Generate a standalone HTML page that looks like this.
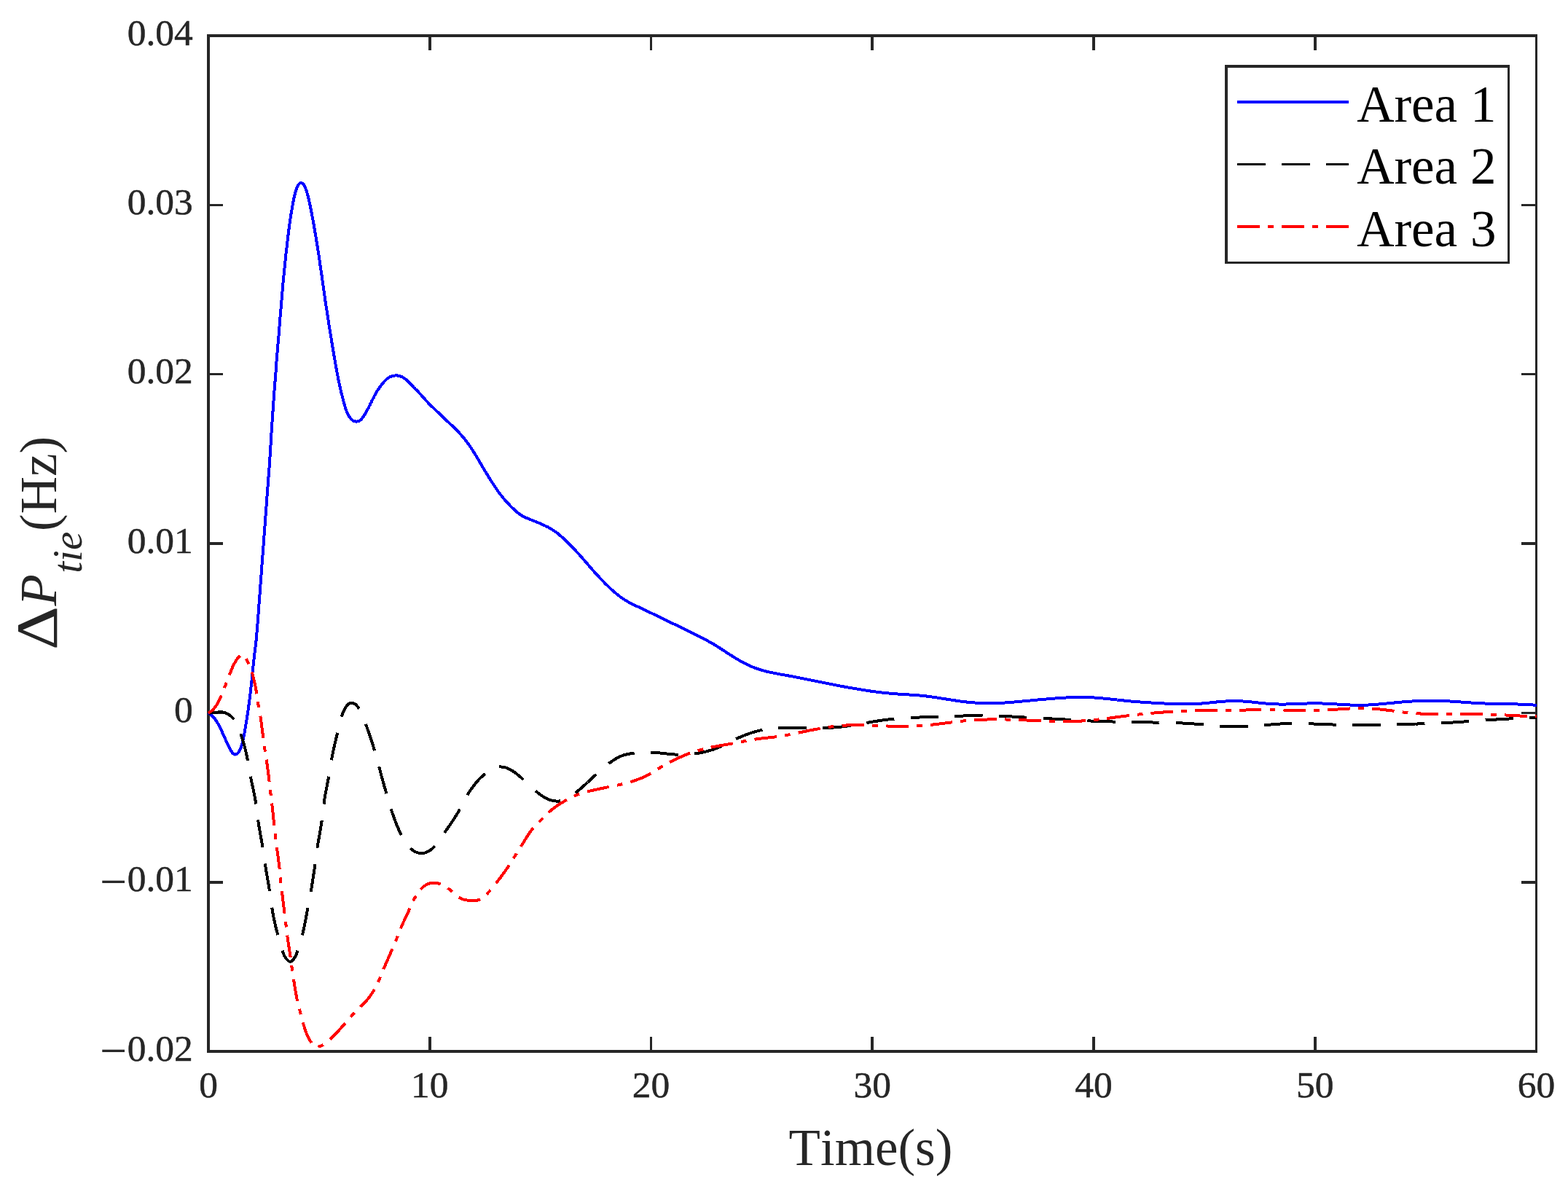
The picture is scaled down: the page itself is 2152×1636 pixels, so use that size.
<!DOCTYPE html>
<html lang="en"><head><meta charset="utf-8"><title>Tie-line power deviation</title>
<style>
html,body{margin:0;padding:0;background:#fff;}
body{width:2152px;height:1636px;overflow:hidden;}
svg{display:block;}
text{font-family:"Liberation Serif","DejaVu Serif",serif;fill:#262626;font-kerning:none;font-variant-ligatures:none;}
.tk{font-size:51.5px;stroke:#262626;stroke-width:0.5px;}
.mn{font-size:66px;stroke:none;}
.lb{font-size:71px;}
.lg{font-size:71px;fill:#000;}
.it{font-style:italic;}
.cv{fill:none;stroke-width:4;stroke-linejoin:round;shape-rendering:crispEdges;}
.ax{fill:#262626;shape-rendering:crispEdges;}
</style></head><body>
<svg xmlns="http://www.w3.org/2000/svg" width="2152" height="1636" viewBox="0 0 2152 1636">
<rect width="2152" height="1636" fill="#fff"/>
<path class="ax" d="M284 47H288V1445H284ZM2107 47H2110V1445H2107ZM284 47H2110V51H284ZM284 1441H2110V1445H284ZM588 1423H592V1441H588ZM588 51H592V69H588ZM892 1423H895V1441H892ZM892 51H895V69H892ZM1195 1423H1199V1441H1195ZM1195 51H1199V69H1195ZM1499 1423H1503V1441H1499ZM1499 51H1503V69H1499ZM1803 1423H1807V1441H1803ZM1803 51H1807V69H1803ZM288 1209H306V1213H288ZM2088 1209H2107V1213H2088ZM288 977H306V980H288ZM2088 977H2107V980H2088ZM288 744H306V748H288ZM2088 744H2107V748H2088ZM288 512H306V515H288ZM2088 512H2107V515H2088ZM288 280H306V283H288ZM2088 280H2107V283H2088Z"/>
<text class="tk" x="286.0" y="1505.7" text-anchor="middle">0</text>
<text class="tk" x="589.8" y="1505.7" text-anchor="middle">10</text>
<text class="tk" x="893.5" y="1505.7" text-anchor="middle">20</text>
<text class="tk" x="1197.2" y="1505.7" text-anchor="middle">30</text>
<text class="tk" x="1501.0" y="1505.7" text-anchor="middle">40</text>
<text class="tk" x="1804.8" y="1505.7" text-anchor="middle">50</text>
<text class="tk" x="2108.5" y="1505.7" text-anchor="middle">60</text>
<text class="tk" x="264.8" y="1455.5" text-anchor="end"><tspan class="mn" x="137.0" y="1464.4" text-anchor="start">−</tspan><tspan x="264.8" y="1455.5" text-anchor="end">0.02</tspan></text>
<text class="tk" x="264.8" y="1223.2" text-anchor="end"><tspan class="mn" x="137.0" y="1232.1" text-anchor="start">−</tspan><tspan x="264.8" y="1223.2" text-anchor="end">0.01</tspan></text>
<text class="tk" x="264.8" y="990.8" text-anchor="end">0</text>
<text class="tk" x="264.8" y="758.5" text-anchor="end">0.01</text>
<text class="tk" x="264.8" y="526.2" text-anchor="end">0.02</text>
<text class="tk" x="264.8" y="293.8" text-anchor="end">0.03</text>
<text class="tk" x="264.8" y="61.5" text-anchor="end">0.04</text>
<text class="lb" x="1195.0" y="1599.3" text-anchor="middle">Time(s)</text>
<g transform="translate(77.0 0.0) rotate(-90)">
<text class="lb"><tspan x="-892.0" y="0.5" style="font-size:80.6px" textLength="60.0" lengthAdjust="spacingAndGlyphs">Δ</tspan><tspan class="it" x="-831.6" y="0" style="font-size:71px">P</tspan><tspan class="it" x="-786.8" y="35.0" style="font-size:57px">tie</tspan><tspan x="-729.0" y="0">(Hz)</tspan></text>
</g>
<g>
<path class="cv" stroke="#0000ff" d="M286 978.7l1.3 .9l1.2 .8l1.2 .9l1.2 .9l1.1 1l1 1.1l1 1.2l.9 1.1l.9 1.3l.9 1.2l.8 1.3l.7 1.2l.8 1.3l.7 1.3l.7 1.4l.7 1.3l.7 1.3l.7 1.4l.6 1.3l.6 1.4l.7 1.4l.6 1.3l.6 1.4l.7 1.3l.6 1.4l.6 1.4l.6 1.4l.6 1.3l.6 1.4l.7 1.4l.6 1.3l.6 1.4l.7 1.3l.6 1.4l.6 1.3l.7 1.4l.7 1.3l.7 1.4l.7 1.3l.7 1.3l.7 1.3l.8 1.3l.9 1.2l1 1.1l1.2 .9l1.4 .4l1.5-.3l1.3-.7l1.1-1l.9-1.2l.8-1.3l.7-1.3l.7-1.3l.6-1.4l.5-1.4l.5-1.4l.4-1.5l.5-1.4l.4-1.5l.3-1.4l.4-1.5l.3-1.4l.3-1.5l.4-1.5l.2-1.4l.3-1.5l.3-1.5l.3-1.5l.3-1.4l.2-1.5l.3-1.5l.2-1.5l.3-1.4l.3-1.5l.2-1.5l.3-1.5l.2-1.5l.2-1.4l.3-1.5l.2-1.5l.3-1.5l.2-1.5l.2-1.4l.3-1.5l.2-1.5l.2-1.5l.2-1.5l.3-1.5l.2-1.4l.2-1.5l.2-1.5l.2-1.5l.2-1.5l.2-1.5l.2-1.5l.2-1.4l.2-1.5l.2-1.5l.2-1.5l.2-1.5l.2-1.5l.1-1.5l.2-1.5l.2-1.4l.2-1.5l.2-1.5l.2-1.5l.1-1.5l.2-1.5l.2-1.5l.1-1.5l.2-1.5l.2-1.5l.1-1.4l.2-1.5l.1-1.5l.2-1.5l.1-1.5l.2-1.5l.1-1.5l.2-1.5l.1-1.5l.2-1.5l.1-1.5l.2-1.5l.1-1.5l.2-1.5l.1-1.4l.2-1.5l.1-1.5l.2-1.5l.2-1.5l.1-1.5l.2-1.5l.1-1.5l.2-1.5l.2-1.5l.2-1.5l.1-1.4l.2-1.5l.2-1.5l.1-1.5l.2-1.5l.2-1.5l.2-1.5l.2-1.5l.1-1.5l.2-1.4l.2-1.5l.2-1.5l.2-1.5l.1-1.5l.2-1.5l.2-1.5l.1-1.5l.2-1.5l.1-1.5l.2-1.5l.1-1.5l.1-1.4l.1-1.5l.2-1.5l.1-1.5l.1-1.5l.1-1.5l.2-1.5l.1-1.5l.1-1.5l.1-1.5l.1-1.5l.2-1.5l.1-1.5l.1-1.5l.1-1.5l.1-1.5l.1-1.5l.1-1.5l.1-1.5l.2-1.5l.1-1.5l.1-1.5l.1-1.4l.1-1.5l.1-1.5l.1-1.5l.1-1.5l.1-1.5l.1-1.5l.1-1.5l.1-1.5l.2-1.5l.1-1.5l.1-1.5l.1-1.5l.1-1.5l.1-1.5l.1-1.5l.1-1.5l.1-1.5l.1-1.5l.1-1.5l.1-1.5l.1-1.5l.2-1.5l.1-1.5l.1-1.5l.1-1.5l.1-1.4l.1-1.5l.1-1.5l.1-1.5l.1-1.5l.2-1.5l.1-1.5l.1-1.5l.1-1.5l.1-1.5l.1-1.5l.1-1.5l.1-1.5l.2-1.5l.1-1.5l.1-1.5l.1-1.5l.1-1.5l.1-1.5l.1-1.5l.1-1.5l.2-1.5l.1-1.5l.1-1.5l.1-1.4l.1-1.5l.1-1.5l.1-1.5l.1-1.5l.1-1.5l.2-1.5l.1-1.5l.1-1.5l.1-1.5l.1-1.5l.1-1.5l.1-1.5l.1-1.5l.2-1.5l.1-1.5l.1-1.5l.1-1.5l.1-1.5l.1-1.5l.1-1.5l.1-1.5l.1-1.5l.2-1.5l.1-1.4l.1-1.5l.1-1.5l.1-1.5l.1-1.5l.1-1.5l.1-1.5l.1-1.5l.2-1.5l.1-1.5l.1-1.5l.1-1.5l.1-1.5l.1-1.5l.1-1.5l.1-1.5l.1-1.5l.1-1.5l.2-1.5l.1-1.5l.1-1.5l.1-1.5l.1-1.5l.1-1.5l.1-1.4l.1-1.5l.1-1.5l.2-1.5l.1-1.5l.1-1.5l.1-1.5l.1-1.5l.1-1.5l.1-1.5l.1-1.5l.1-1.5l.2-1.5l.1-1.5l.1-1.5l.1-1.5l.1-1.5l.1-1.5l.1-1.5l.2-1.5l.1-1.5l.1-1.5l.1-1.5l.1-1.4l.1-1.5l.2-1.5l.1-1.5l.1-1.5l.1-1.5l.1-1.5l.1-1.5l.1-1.5l.2-1.5l.1-1.5l.1-1.5l.1-1.5l.1-1.5l.1-1.5l.1-1.5l.1-1.5l.1-1.5l.1-1.5l.1-1.5l.1-1.5l.1-1.5l.1-1.5l.1-1.5l0-1.5l.1-1.5l.1-1.5l.1-1.5l.1-1.4l.1-1.5l.1-1.5l.1-1.5l.1-1.5l.1-1.5l.1-1.5l.1-1.5l.1-1.5l.1-1.5l.1-1.5l.1-1.5l0-1.5l.1-1.5l.1-1.5l.1-1.5l.1-1.5l.1-1.5l.1-1.5l.1-1.5l.1-1.5l.1-1.5l.1-1.5l.1-1.5l.1-1.5l.1-1.5l.1-1.5l.1-1.5l.1-1.5l.1-1.5l.1-1.5l.1-1.5l.1-1.5l.1-1.4l.1-1.5l.1-1.5l.1-1.5l.1-1.5l.1-1.5l.1-1.5l.1-1.5l.1-1.5l.1-1.5l.1-1.5l.1-1.5l.1-1.5l.1-1.5l.1-1.5l.2-1.5l.1-1.5l.1-1.5l.1-1.5l.1-1.5l.1-1.5l.1-1.5l.1-1.5l.2-1.5l.1-1.5l.1-1.4l.1-1.5l.1-1.5l.2-1.5l.1-1.5l.1-1.5l.1-1.5l.1-1.5l.1-1.5l.2-1.5l.1-1.5l.1-1.5l.1-1.5l.1-1.5l.1-1.5l.1-1.5l.1-1.5l.1-1.5l.1-1.5l.1-1.5l.1-1.5l.1-1.5l.2-1.5l.1-1.5l.1-1.4l.1-1.5l.1-1.5l.1-1.5l.1-1.5l.2-1.5l.1-1.5l.1-1.5l.1-1.5l.2-1.5l.1-1.5l.1-1.5l.2-1.5l.1-1.5l.1-1.5l.2-1.5l.1-1.5l.1-1.5l.2-1.5l.1-1.4l.1-1.5l.2-1.5l.1-1.5l.1-1.5l.1-1.5l.1-1.5l.1-1.5l.2-1.5l.1-1.5l.1-1.5l.1-1.5l.1-1.5l.1-1.5l.2-1.5l.1-1.5l.1-1.5l.1-1.5l.1-1.5l.2-1.5l.1-1.5l.1-1.4l.1-1.5l.2-1.5l.1-1.5l.1-1.5l.2-1.5l.1-1.5l.1-1.5l.2-1.5l.1-1.5l.1-1.5l.1-1.5l.2-1.5l.1-1.5l.1-1.5l.1-1.5l.2-1.5l.1-1.5l.1-1.4l.1-1.5l.2-1.5l.1-1.5l.1-1.5l.2-1.5l.1-1.5l.1-1.5l.1-1.5l.2-1.5l.1-1.5l.1-1.5l.2-1.5l.1-1.5l.2-1.5l.1-1.5l.1-1.5l.2-1.4l.1-1.5l.2-1.5l.1-1.5l.2-1.5l.1-1.5l.2-1.5l.1-1.5l.2-1.5l.1-1.5l.2-1.5l.1-1.5l.2-1.5l.1-1.4l.2-1.5l.1-1.5l.2-1.5l.1-1.5l.2-1.5l.1-1.5l.2-1.5l.1-1.5l.2-1.5l.2-1.5l.1-1.5l.2-1.5l.2-1.4l.2-1.5l.1-1.5l.2-1.5l.2-1.5l.2-1.5l.1-1.5l.2-1.5l.2-1.5l.2-1.4l.2-1.5l.1-1.5l.2-1.5l.2-1.5l.2-1.5l.2-1.5l.2-1.5l.1-1.5l.2-1.4l.2-1.5l.2-1.5l.2-1.5l.2-1.5l.2-1.5l.2-1.5l.2-1.4l.3-1.5l.2-1.5l.2-1.5l.2-1.5l.3-1.5l.2-1.4l.2-1.5l.3-1.5l.2-1.5l.3-1.5l.2-1.4l.3-1.5l.2-1.5l.3-1.5l.3-1.5l.2-1.4l.3-1.5l.3-1.5l.3-1.4l.3-1.5l.3-1.5l.3-1.4l.4-1.5l.3-1.5l.4-1.4l.3-1.5l.4-1.4l.5-1.5l.4-1.4l.5-1.4l.5-1.4l.6-1.4l.7-1.3l.7-1.3l.9-1.3l1.1-1l1.4-.6l1.4 .2l1.3 .8l1 1.1l.8 1.3l.8 1.3l.6 1.3l.6 1.4l.5 1.4l.5 1.4l.5 1.5l.4 1.4l.5 1.4l.4 1.5l.3 1.4l.4 1.5l.4 1.4l.3 1.5l.4 1.5l.3 1.4l.3 1.5l.4 1.4l.3 1.5l.3 1.5l.3 1.4l.3 1.5l.3 1.5l.3 1.5l.3 1.4l.3 1.5l.3 1.5l.3 1.4l.2 1.5l.3 1.5l.3 1.5l.3 1.4l.2 1.5l.3 1.5l.3 1.5l.2 1.4l.3 1.5l.3 1.5l.2 1.5l.3 1.5l.2 1.4l.3 1.5l.2 1.5l.3 1.5l.2 1.4l.3 1.5l.2 1.5l.3 1.5l.2 1.5l.3 1.4l.2 1.5l.3 1.5l.2 1.5l.2 1.5l.3 1.4l.2 1.5l.3 1.5l.2 1.5l.2 1.5l.3 1.5l.2 1.4l.2 1.5l.3 1.5l.2 1.5l.2 1.5l.3 1.4l.2 1.5l.2 1.5l.2 1.5l.2 1.5l.3 1.5l.2 1.4l.2 1.5l.2 1.5l.2 1.5l.2 1.5l.2 1.5l.2 1.5l.3 1.4l.2 1.5l.2 1.5l.2 1.5l.2 1.5l.2 1.5l.3 1.4l.2 1.5l.2 1.5l.2 1.5l.2 1.5l.2 1.5l.3 1.5l.2 1.4l.2 1.5l.2 1.5l.2 1.5l.2 1.5l.2 1.5l.2 1.5l.2 1.4l.2 1.5l.2 1.5l.2 1.5l.3 1.5l.2 1.5l.2 1.4l.2 1.5l.2 1.5l.2 1.5l.2 1.5l.3 1.5l.2 1.5l.2 1.4l.2 1.5l.3 1.5l.2 1.5l.2 1.5l.3 1.4l.2 1.5l.2 1.5l.2 1.5l.3 1.5l.2 1.5l.2 1.4l.2 1.5l.2 1.5l.3 1.5l.2 1.5l.2 1.5l.2 1.4l.3 1.5l.2 1.5l.2 1.5l.3 1.5l.2 1.5l.3 1.4l.2 1.5l.2 1.5l.3 1.5l.2 1.5l.3 1.4l.2 1.5l.3 1.5l.2 1.5l.3 1.5l.2 1.4l.2 1.5l.3 1.5l.2 1.5l.3 1.5l.2 1.4l.2 1.5l.3 1.5l.2 1.5l.3 1.5l.2 1.4l.3 1.5l.2 1.5l.3 1.5l.2 1.5l.3 1.4l.2 1.5l.3 1.5l.2 1.5l.3 1.4l.2 1.5l.3 1.5l.3 1.5l.2 1.5l.3 1.4l.3 1.5l.2 1.5l.3 1.5l.3 1.4l.2 1.5l.3 1.5l.3 1.5l.3 1.4l.3 1.5l.2 1.5l.3 1.4l.3 1.5l.3 1.5l.3 1.5l.3 1.4l.4 1.5l.3 1.5l.3 1.4l.3 1.5l.3 1.5l.4 1.4l.3 1.5l.3 1.4l.4 1.5l.3 1.5l.4 1.4l.4 1.5l.3 1.4l.4 1.5l.4 1.4l.3 1.5l.4 1.4l.4 1.5l.4 1.4l.4 1.5l.4 1.4l.4 1.5l.4 1.4l.4 1.5l.5 1.4l.5 1.4l.5 1.4l.5 1.4l.6 1.4l.6 1.4l.7 1.3l.7 1.3l.8 1.3l.8 1.2l.9 1.2l1 1.2l1.1 1l1.1 1l1.4 .7l1.4 .5l1.5 .2l1.5 0l1.4-.2l1.4-.5l1.3-.8l1.2-.9l1-1.1l1-1.1l.9-1.2l.9-1.3l.8-1.2l.8-1.3l.8-1.3l.7-1.3l.8-1.3l.7-1.3l.7-1.3l.7-1.4l.7-1.3l.6-1.3l.7-1.4l.7-1.3l.6-1.4l.7-1.3l.7-1.3l.6-1.4l.7-1.3l.7-1.4l.7-1.3l.7-1.3l.6-1.4l.8-1.3l.7-1.3l.7-1.3l.8-1.3l.7-1.3l.8-1.3l.8-1.2l.9-1.3l.9-1.2l.8-1.2l.9-1.2l.9-1.2l.9-1.2l1-1.2l.9-1.1l1-1.2l1-1.1l1.1-1l1.1-1.1l1.1-.9l1.2-.9l1.3-.8l1.3-.7l1.4-.6l1.4-.5l1.5-.4l1.4-.2l1.5-.2l1.5 0l1.5 .1l1.5 .3l1.5 .3l1.4 .5l1.4 .5l1.3 .7l1.4 .7l1.2 .8l1.2 .9l1.2 .9l1.1 1l1.1 1l1.1 1.1l1 1.1l1 1.1l1.1 1.1l1 1.1l1 1.1l1 1.1l1 1.1l1.1 1l1 1.1l1.1 1l1.1 1.1l1.1 1l1 1.1l1 1.1l1.1 1.1l1 1.1l1 1.1l1 1.2l.9 1.1l1 1.1l1 1.1l1 1.2l1 1.1l1 1.1l1.1 1.1l1 1.1l1 1l1.1 1.1l1.1 1.1l1 1l1.1 1.1l1.1 1l1.1 1.1l1 1l1.1 1l1.1 1.1l1.1 1l1.1 1l1.1 1.1l1 1l1.1 1.1l1.1 1l1.1 1l1.1 1.1l1.1 1l1.1 1l1.1 1l1 1.1l1.1 1l1.1 1l1.1 1.1l1.1 1l1.1 1l1.1 1l1.1 1.1l1.1 1l1.1 1.1l1 1l1.1 1l1.1 1.1l1 1l1.1 1.1l1.1 1.1l1 1.1l1 1l1.1 1.1l1 1.1l1 1.1l1 1.2l1 1.1l.9 1.1l1 1.2l1 1.2l.9 1.1l.9 1.2l.9 1.2l.9 1.2l.9 1.2l.9 1.2l.9 1.2l.8 1.3l.9 1.2l.8 1.3l.8 1.2l.9 1.3l.8 1.2l.8 1.3l.8 1.3l.8 1.2l.7 1.3l.8 1.3l.8 1.3l.8 1.3l.7 1.3l.8 1.3l.8 1.2l.7 1.3l.8 1.3l.7 1.3l.8 1.3l.8 1.3l.7 1.3l.8 1.3l.8 1.3l.7 1.3l.8 1.2l.8 1.3l.7 1.3l.8 1.3l.8 1.3l.8 1.3l.8 1.2l.8 1.3l.7 1.3l.8 1.3l.8 1.2l.8 1.3l.8 1.3l.8 1.3l.8 1.2l.8 1.3l.8 1.2l.9 1.3l.8 1.3l.8 1.2l.9 1.3l.8 1.2l.8 1.2l.9 1.3l.9 1.2l.9 1.2l.8 1.2l.9 1.2l1 1.2l.9 1.2l.9 1.2l.9 1.1l1 1.2l1 1.1l.9 1.2l1 1.1l1 1.1l1 1.1l1 1.1l1.1 1.1l1 1.1l1 1.1l1.1 1.1l1 1.1l1.1 1l1.1 1l1.1 1.1l1.1 1l1.1 1l1.1 1l1.1 1l1.2 .9l1.2 .9l1.2 .9l1.3 .8l1.2 .8l1.4 .8l1.3 .7l1.3 .6l1.4 .7l1.3 .6l1.4 .6l1.4 .6l1.4 .6l1.3 .6l1.4 .5l1.4 .6l1.4 .5l1.4 .6l1.4 .5l1.4 .6l1.4 .5l1.4 .6l1.4 .6l1.4 .6l1.3 .6l1.4 .6l1.4 .6l1.3 .6l1.4 .7l1.3 .7l1.4 .6l1.3 .7l1.3 .8l1.3 .7l1.3 .8l1.3 .8l1.2 .8l1.3 .8l1.2 .8l1.2 .9l1.2 .9l1.2 .9l1.2 1l1.2 .9l1.1 1l1.1 1l1.2 1l1.1 1l1.1 1l1.1 1l1.1 1l1.1 1.1l1 1l1.1 1.1l1.1 1l1 1.1l1.1 1l1.1 1.1l1 1.1l1.1 1l1 1.1l1 1.1l1.1 1.1l1 1.1l1 1.1l1 1.1l1 1.1l1 1.1l1.1 1.1l1 1.1l1 1.2l.9 1.1l1 1.1l1 1.1l1 1.2l1 1.1l1 1.1l1 1.1l1 1.2l1 1.1l.9 1.1l1 1.2l1 1.1l1 1.1l1 1.2l1 1.1l.9 1.1l1 1.2l1 1.1l1 1.1l1 1.1l1 1.1l1 1.2l1 1.1l1 1.1l1.1 1.1l1 1.1l1 1.1l1 1.1l1.1 1.1l1 1.1l1 1l1.1 1.1l1 1.1l1.1 1.1l1 1l1.1 1.1l1.1 1l1 1.1l1.1 1l1.1 1l1.1 1.1l1.1 1l1.1 1l1.1 1l1.2 1l1.1 1l1.1 .9l1.2 1l1.2 .9l1.1 1l1.2 .9l1.2 .9l1.2 .9l1.3 .8l1.2 .9l1.2 .8l1.3 .9l1.3 .8l1.2 .7l1.3 .8l1.3 .8l1.3 .7l1.4 .7l1.3 .7l1.3 .7l1.4 .7l1.3 .6l1.3 .7l1.4 .6l1.4 .7l1.3 .6l1.4 .7l1.3 .6l1.4 .7l1.3 .6l1.4 .7l1.3 .6l1.4 .6l1.3 .7l1.4 .6l1.3 .7l1.4 .6l1.4 .7l1.3 .6l1.4 .6l1.3 .7l1.4 .6l1.3 .7l1.4 .6l1.3 .7l1.4 .6l1.3 .7l1.4 .7l1.3 .6l1.4 .7l1.3 .7l1.4 .6l1.3 .7l1.3 .6l1.4 .7l1.3 .6l1.4 .7l1.4 .6l1.3 .7l1.4 .6l1.3 .6l1.4 .7l1.4 .6l1.3 .6l1.4 .7l1.3 .6l1.4 .6l1.4 .7l1.3 .6l1.4 .6l1.3 .7l1.4 .7l1.3 .6l1.3 .7l1.4 .7l1.3 .7l1.4 .6l1.3 .7l1.3 .7l1.4 .7l1.3 .7l1.3 .6l1.4 .7l1.3 .7l1.4 .7l1.3 .6l1.4 .7l1.3 .7l1.3 .6l1.4 .7l1.3 .7l1.4 .7l1.3 .6l1.3 .7l1.4 .7l1.3 .7l1.3 .7l1.3 .8l1.3 .7l1.3 .7l1.3 .8l1.3 .7l1.3 .8l1.3 .7l1.3 .8l1.3 .8l1.3 .8l1.2 .8l1.3 .8l1.3 .8l1.2 .8l1.3 .8l1.2 .9l1.3 .8l1.2 .8l1.3 .8l1.2 .9l1.3 .8l1.3 .8l1.2 .8l1.3 .8l1.2 .8l1.3 .8l1.3 .8l1.2 .8l1.3 .8l1.3 .8l1.3 .8l1.3 .8l1.2 .7l1.3 .8l1.3 .7l1.3 .8l1.4 .7l1.3 .7l1.3 .7l1.3 .7l1.4 .7l1.3 .7l1.4 .6l1.3 .7l1.4 .6l1.4 .6l1.3 .6l1.4 .5l1.4 .6l1.4 .5l1.4 .5l1.4 .5l1.5 .5l1.4 .5l1.4 .4l1.5 .5l1.4 .4l1.4 .4l1.5 .4l1.4 .4l1.5 .4l1.4 .3l1.5 .4l1.5 .3l1.4 .3l1.5 .3l1.5 .3l1.4 .3l1.5 .3l1.5 .3l1.5 .3l1.4 .3l1.5 .2l1.5 .3l1.5 .3l1.4 .2l1.5 .3l1.5 .3l1.5 .2l1.4 .3l1.5 .3l1.5 .2l1.5 .3l1.4 .3l1.5 .3l1.5 .2l1.5 .3l1.4 .3l1.5 .3l1.5 .3l1.5 .3l1.4 .2l1.5 .3l1.5 .3l1.4 .3l1.5 .3l1.5 .3l1.5 .3l1.4 .3l1.5 .3l1.5 .3l1.4 .3l1.5 .3l1.5 .3l1.5 .3l1.4 .3l1.5 .3l1.5 .3l1.4 .3l1.5 .2l1.5 .3l1.4 .3l1.5 .3l1.5 .3l1.5 .3l1.4 .3l1.5 .3l1.5 .3l1.4 .3l1.5 .3l1.5 .3l1.5 .3l1.4 .3l1.5 .3l1.5 .2l1.4 .3l1.5 .3l1.5 .3l1.5 .3l1.4 .3l1.5 .2l1.5 .3l1.5 .3l1.4 .3l1.5 .2l1.5 .3l1.5 .3l1.4 .2l1.5 .3l1.5 .2l1.5 .3l1.4 .3l1.5 .2l1.5 .3l1.5 .2l1.5 .3l1.4 .2l1.5 .3l1.5 .2l1.5 .2l1.5 .3l1.4 .2l1.5 .2l1.5 .3l1.5 .2l1.5 .2l1.5 .2l1.4 .3l1.5 .2l1.5 .2l1.5 .2l1.5 .2l1.5 .2l1.5 .2l1.4 .2l1.5 .2l1.5 .2l1.5 .1l1.5 .2l1.5 .2l1.5 .1l1.5 .2l1.5 .2l1.5 .1l1.5 .1l1.4 .2l1.5 .1l1.5 .1l1.5 .2l1.5 .1l1.5 .1l1.5 .1l1.5 .1l1.5 .1l1.5 .1l1.5 .1l1.5 .1l1.5 .1l1.5 0l1.5 .1l1.5 .1l1.5 .1l1.5 .1l1.5 .1l1.5 .1l1.5 .1l1.5 .1l1.5 .1l1.5 .1l1.5 .1l1.5 .1l1.5 .2l1.4 .1l1.5 .1l1.5 .2l1.5 .1l1.5 .2l1.5 .1l1.5 .2l1.5 .2l1.5 .2l1.5 .2l1.5 .2l1.4 .2l1.5 .2l1.5 .2l1.5 .2l1.5 .2l1.5 .3l1.4 .2l1.5 .2l1.5 .3l1.5 .2l1.5 .2l1.4 .3l1.5 .2l1.5 .2l1.5 .3l1.5 .2l1.5 .3l1.4 .2l1.5 .2l1.5 .2l1.5 .3l1.5 .2l1.4 .2l1.5 .2l1.5 .2l1.5 .3l1.5 .2l1.5 .2l1.5 .2l1.5 .1l1.4 .2l1.5 .2l1.5 .2l1.5 .2l1.5 .1l1.5 .2l1.5 .1l1.5 .2l1.5 .1l1.5 .1l1.5 .1l1.5 .2l1.5 .1l1.5 .1l1.4 0l1.5 .1l1.5 .1l1.5 .1l1.5 0l1.5 0l1.5 .1l1.5 0l1.5 0l1.5 0l1.5 0l1.5 0l1.5 0l1.5 0l1.5 0l1.5-.1l1.5 0l1.5-.1l1.5-.1l1.5 0l1.5-.1l1.5-.1l1.5-.1l1.5-.1l1.5-.1l1.5-.1l1.5-.1l1.5-.1l1.5-.1l1.5-.1l1.5-.2l1.5-.1l1.5-.1l1.5-.2l1.5-.1l1.5-.1l1.5-.2l1.5-.1l1.4-.2l1.5-.1l1.5-.1l1.5-.2l1.5-.1l1.5-.2l1.5-.1l1.5-.2l1.5-.1l1.5-.1l1.5-.2l1.5-.1l1.5-.2l1.5-.1l1.5-.1l1.4-.2l1.5-.1l1.5-.1l1.5-.2l1.5-.1l1.5-.1l1.5-.2l1.5-.1l1.5-.1l1.5-.1l1.5-.2l1.5-.1l1.5-.1l1.5-.1l1.5-.2l1.5-.1l1.5-.1l1.5-.1l1.5-.1l1.4-.1l1.5-.1l1.5-.1l1.5-.2l1.5 0l1.5-.1l1.5-.1l1.5-.1l1.5-.1l1.5-.1l1.5-.1l1.5 0l1.5-.1l1.5-.1l1.5 0l1.5-.1l1.5 0l1.5 0l1.5-.1l1.5 0l1.5 0l1.5 0l1.5 0l1.5 0l1.5 0l1.5 .1l1.5 0l1.5 0l1.5 .1l1.5 0l1.5 .1l1.5 .1l1.5 0l1.5 .1l1.5 .1l1.5 .1l1.5 .1l1.5 .1l1.5 .1l1.5 .2l1.5 .1l1.5 .1l1.5 .2l1.5 .1l1.4 .2l1.5 .1l1.5 .2l1.5 .2l1.5 .1l1.5 .2l1.5 .2l1.5 .1l1.5 .2l1.5 .2l1.5 .1l1.4 .2l1.5 .1l1.5 .2l1.5 .2l1.5 .1l1.5 .2l1.5 .1l1.5 .2l1.5 .1l1.5 .2l1.5 .1l1.5 .2l1.5 .1l1.4 .2l1.5 .1l1.5 .1l1.5 .2l1.5 .1l1.5 .1l1.5 .1l1.5 .1l1.5 .1l1.5 .2l1.5 .1l1.5 .1l1.5 .1l1.5 .1l1.5 .1l1.5 .1l1.5 .1l1.5 .1l1.5 0l1.5 .1l1.5 .1l1.5 .1l1.5 .1l1.5 .1l1.5 .1l1.5 0l1.5 .1l1.4 .1l1.5 .1l1.5 .1l1.5 0l1.5 .1l1.5 .1l1.5 0l1.5 .1l1.5 .1l1.5 0l1.5 .1l1.5 0l1.5 .1l1.5 0l1.5 .1l1.5 0l1.5 .1l1.5 0l1.5 0l1.5 .1l1.5 0l1.5 0l1.5 0l1.5 0l1.5 0l1.5 0l1.5-.1l1.5 0l1.5 0l1.5-.1l1.5 0l1.5-.1l1.5-.1l1.5 0l1.5-.1l1.5-.1l1.5-.1l1.5-.1l1.5-.2l1.5-.1l1.5-.1l1.5-.2l1.5-.1l1.5-.2l1.5-.1l1.5-.2l1.4-.1l1.5-.2l1.5-.1l1.5-.2l1.5-.2l1.5-.1l1.5-.2l1.5-.1l1.5-.1l1.5-.2l1.5-.1l1.5-.1l1.5-.1l1.5-.1l1.5-.1l1.5-.1l1.5 0l1.5-.1l1.5 0l1.5-.1l1.5 0l1.5 0l1.5 0l1.5 0l1.5 .1l1.5 0l1.5 .1l1.4 0l1.5 .1l1.5 .1l1.5 .1l1.5 .1l1.5 .1l1.5 .2l1.5 .1l1.5 .1l1.5 .2l1.5 .1l1.5 .2l1.5 .1l1.5 .2l1.5 .2l1.5 .1l1.5 .2l1.4 .1l1.5 .2l1.5 .1l1.5 .2l1.5 .1l1.5 .2l1.5 .1l1.5 .2l1.5 .1l1.5 .1l1.5 .1l1.5 .1l1.5 .1l1.5 .1l1.5 .1l1.5 0l1.5 .1l1.5 0l1.5 0l1.5 .1l1.5 0l1.5 0l1.5 0l1.5 0l1.5 0l1.5-.1l1.5 0l1.5 0l1.5-.1l1.5 0l1.5-.1l1.5 0l1.5-.1l1.5 0l1.5-.1l1.5-.1l1.5 0l1.5-.1l1.5 0l1.4-.1l1.5-.1l1.5 0l1.5-.1l1.5 0l1.5-.1l1.5 0l1.5 0l1.5-.1l1.5 0l1.5 0l1.5 0l1.5 0l1.5 0l1.5 0l1.5 0l1.5 0l1.5 .1l1.5 0l1.5 0l1.5 .1l1.5 0l1.5 .1l1.5 0l1.5 .1l1.5 .1l1.5 .1l1.5 .1l1.5 0l1.5 .1l1.5 .1l1.5 .1l1.5 .1l1.5 .1l1.5 .1l1.5 .1l1.5 .1l1.5 .1l1.5 .1l1.5 .1l1.5 .1l1.5 0l1.5 .1l1.5 .1l1.5 0l1.5 .1l1.5 0l1.5 .1l1.5 0l1.5 .1l1.5 0l1.5 0l1.5 0l1.5 0l1.5 0l1.5 0l1.5 0l1.5-.1l1.5 0l1.5-.1l1.5 0l1.5-.1l1.5-.1l1.5-.1l1.5-.1l1.5-.1l1.5-.1l1.5-.1l1.5-.1l1.5-.1l1.4-.1l1.5-.2l1.5-.1l1.5-.1l1.5-.2l1.5-.1l1.5-.1l1.5-.2l1.5-.1l1.5-.2l1.5-.1l1.5-.2l1.5-.1l1.5-.1l1.5-.2l1.4-.1l1.5-.2l1.5-.1l1.5-.1l1.5-.2l1.5-.1l1.5-.1l1.5-.2l1.5-.1l1.5-.1l1.5-.1l1.5-.2l1.5-.1l1.5-.1l1.5-.1l1.5-.1l1.5-.1l1.5-.1l1.5-.1l1.5-.1l1.5 0l1.5-.1l1.5-.1l1.5 0l1.5-.1l1.5 0l1.5-.1l1.4 0l1.5-.1l1.5 0l1.5 0l1.5 0l1.5 0l1.5 0l1.5 0l1.5 0l1.5 0l1.5 0l1.5 0l1.5 .1l1.5 0l1.5 0l1.5 .1l1.5 0l1.5 .1l1.5 .1l1.5 0l1.5 .1l1.5 .1l1.5 .1l1.5 0l1.5 .1l1.5 .1l1.5 .1l1.5 .1l1.5 .1l1.5 .1l1.5 .1l1.5 .1l1.5 .1l1.5 .1l1.5 .1l1.5 .2l1.5 .1l1.5 .1l1.5 .1l1.5 .1l1.5 .1l1.5 .1l1.5 .1l1.5 .1l1.5 .1l1.5 .1l1.5 .1l1.5 .1l1.4 .1l1.5 0l1.5 .1l1.5 .1l1.5 .1l1.5 0l1.5 .1l1.5 .1l1.5 0l1.5 .1l1.5 0l1.5 .1l1.5 0l1.5 0l1.5 .1l1.5 0l1.5 0l1.5 .1l1.5 0l1.5 0l1.5 0l1.5 .1l1.5 0l1.5 0l1.5 0l1.5 .1l1.5 0l1.5 0l1.5 0l1.5 0l1.5 .1l1.5 0l1.5 0l1.5 .1l1.5 0l1.5 .1l1.5 0l1.5 .1l1.5 0l1.5 .1l1.5 0l1.5 .1l1.5 .1l1.5 0l1.5 .1l1.5 .1l1.5 0l1.5 .1l1.5 .1l1.5 .1l1.5 0l1.5 .1l1.5 .1l1.5 .1l1.5 .1l1.5 0"/>
<path class="cv" stroke="#000000" stroke-dasharray="38.4 200" d="M286 978.8l1.5-.2l1.5-.1l1.5-.1l1.5-.1l1.5-.2l1.5-.1l1.5-.1l1.5-.2l1.4-.2l1.5-.1l1.5-.1l1.5 0l1.5 .1l1.5 .2l1.5 .4l1.4 .5l1.3 .7l1.3 .7l1.3 .7l1.3 .9l1.2 .8l1.2 1l1.1 1l1 1.1l1 1.1l.9 1.2l.8 1.3l.7 1.3l.8 1.3l.7 1.3l.6 1.4l.7 1.3l.6 1.4l.6 1.4l.5 1.4l.6 1.4l.5 1.4l.6 1.4l.5 1.4l.5 1.4l.1 .3M330.2 1007.1l.5 1.4l.5 1.5l.5 1.4l.5 1.4l.4 1.4l.5 1.5l.4 1.4l.5 1.4l.4 1.5l.4 1.4l.4 1.5l.4 1.4l.4 1.5l.3 1.4l.4 1.5l.3 1.4l.4 1.5l.3 1.4l.4 1.5l.3 1.5l.3 1.4l.3 1.5l.3 1.5l.3 1.5l.3 1.4l.2 1.5l.3 1.5l.3 1.5l.2 1.4l.3 1.5l.2 1.5l.3 1.5l.2 1.4l.3 1.5l.2 1.5l.3 1.5l.3 1.5l.2 1.4l.3 1.5l.3 1.5l0 .3M343.8 1065.8l.3 1.5l.3 1.4l.3 1.5l.3 1.5l.3 1.4l.3 1.5l.4 1.5l.3 1.4l.3 1.5l.3 1.5l.4 1.4l.3 1.5l.3 1.5l.3 1.4l.3 1.5l.3 1.5l.3 1.4l.3 1.5l.3 1.5l.2 1.5l.3 1.4l.2 1.5l.3 1.5l.2 1.5l.2 1.5l.3 1.5l.2 1.4l.2 1.5l.2 1.5l.2 1.5l.2 1.5l.2 1.5l.1 1.5l.2 1.5l.2 1.4l.2 1.5l.2 1.5l.2 1.5l.2 1.5l.2 1.5l.1 .5M354.2 1125.4l.2 1.5l.2 1.5l.2 1.5l.2 1.5l.3 1.4l.2 1.5l.3 1.5l.2 1.5l.3 1.5l.2 1.4l.3 1.5l.2 1.5l.3 1.5l.3 1.4l.2 1.5l.3 1.5l.3 1.5l.2 1.5l.3 1.4l.2 1.5l.3 1.5l.2 1.5l.3 1.4l.2 1.5l.3 1.5l.2 1.5l.2 1.5l.3 1.5l.2 1.4l.2 1.5l.2 1.5l.2 1.5l.2 1.5l.3 1.5l.2 1.4l.2 1.5l.2 1.5l.2 1.5l.2 1.5l.2 1.5l.2 .7M363.8 1185.4l.2 1.5l.2 1.5l.3 1.5l.2 1.5l.2 1.4l.3 1.5l.2 1.5l.3 1.5l.2 1.5l.3 1.4l.3 1.5l.2 1.5l.3 1.5l.2 1.4l.3 1.5l.2 1.5l.3 1.5l.2 1.5l.3 1.4l.2 1.5l.3 1.5l.2 1.5l.2 1.5l.3 1.4l.2 1.5l.2 1.5l.2 1.5l.2 1.5l.2 1.5l.3 1.4l.2 1.5l.2 1.5l.2 1.5l.2 1.5l.2 1.5l.2 1.5l.2 1.4l.2 1.5l.2 1.5l.3 1.5l.1 .9M373.2 1245.6l.2 1.5l.3 1.5l.2 1.5l.3 1.4l.2 1.5l.3 1.5l.3 1.5l.3 1.4l.2 1.5l.3 1.5l.3 1.5l.3 1.4l.4 1.5l.3 1.5l.3 1.4l.3 1.5l.4 1.4l.3 1.5l.4 1.5l.4 1.4l.3 1.5l.4 1.4l.4 1.5l.4 1.4l.3 1.5l.4 1.4l.4 1.5l.4 1.4l.4 1.5l.4 1.4l.5 1.4l.4 1.5l.4 1.4l.4 1.5l.5 1.4l.4 1.4l.4 1.5l.5 1.4l.4 1.4l.5 1.5l.2 .7M387.6 1304.6l.5 1.4l.4 1.4l.5 1.4l.6 1.4l.6 1.4l.7 1.3l.8 1.3l.9 1.2l.9 1.2l1 1.1l1.1 1l1.3 .8l1.5 .3l1.4-.5l1.2-.9l1.1-1l.9-1.2l.9-1.2l.8-1.2l.8-1.4l.6-1.3l.6-1.4l.5-1.4l.5-1.4l.4-1.4l.5-1.5l.5-1.4l.5-1.4l.4-1.4l.5-1.5l.5-1.4l.4-1.4l.5-1.5l.4-1.4l.4-1.4l.5-1.5l.4-1.4l.4-1.5l.4-1.4l.3-1.5l.2-.4M414.9 1283.5l.3-1.5l.4-1.4l.3-1.5l.4-1.4l.3-1.5l.3-1.5l.3-1.4l.3-1.5l.3-1.5l.3-1.4l.3-1.5l.3-1.5l.3-1.5l.3-1.4l.3-1.5l.3-1.5l.3-1.4l.2-1.5l.3-1.5l.3-1.5l.3-1.4l.2-1.5l.3-1.5l.3-1.5l.3-1.4l.2-1.5l.3-1.5l.3-1.5l.3-1.4l.3-1.5l.2-1.5l.3-1.5l.3-1.4l.3-1.5l.2-1.5l.3-1.5l.3-1.4l.2-1.5l.3-1.5l.3-1.5l.1-.7M426.6 1223.9l.2-1.5l.3-1.5l.3-1.4l.2-1.5l.3-1.5l.2-1.5l.2-1.5l.3-1.4l.2-1.5l.3-1.5l.2-1.5l.2-1.5l.2-1.4l.3-1.5l.2-1.5l.2-1.5l.2-1.5l.3-1.5l.2-1.5l.2-1.4l.2-1.5l.2-1.5l.2-1.5l.2-1.5l.2-1.5l.2-1.5l.2-1.4l.2-1.5l.2-1.5l.2-1.5l.2-1.5l.2-1.5l.2-1.5l.2-1.5l.2-1.4l.2-1.5l.2-1.5l.2-1.5l.2-1.5l.2-1.5l.1-.8M435.4 1163.7l.3-1.5l.2-1.4l.2-1.5l.3-1.5l.2-1.5l.3-1.5l.2-1.4l.3-1.5l.3-1.5l.2-1.5l.3-1.4l.3-1.5l.2-1.5l.3-1.5l.3-1.4l.2-1.5l.3-1.5l.2-1.5l.3-1.5l.2-1.4l.3-1.5l.2-1.5l.2-1.5l.2-1.5l.2-1.5l.2-1.4l.2-1.5l.2-1.5l.2-1.5l.2-1.5l.2-1.5l.1-1.5l.2-1.5l.2-1.5l.1-1.5l.2-1.4l.2-1.5l.2-1.5l.2-1.5l.2-1.5l.1-.8M444.5 1103.6l.2-1.5l.2-1.5l.2-1.5l.2-1.5l.2-1.5l.3-1.4l.2-1.5l.3-1.5l.2-1.5l.3-1.4l.3-1.5l.2-1.5l.3-1.5l.3-1.4l.3-1.5l.3-1.5l.3-1.5l.2-1.4l.3-1.5l.3-1.5l.3-1.4l.3-1.5l.3-1.5l.2-1.5l.3-1.4l.3-1.5l.2-1.5l.3-1.5l.2-1.5l.3-1.4l.2-1.5l.3-1.5l.2-1.5l.2-1.5l.3-1.4l.2-1.5l.3-1.5l.2-1.5l.3-1.5l.2-1.4l.2-1.2M454.9 1043.3l.3-1.5l.3-1.5l.2-1.4l.3-1.5l.3-1.5l.3-1.5l.3-1.4l.3-1.5l.3-1.5l.3-1.4l.3-1.5l.4-1.5l.3-1.4l.3-1.5l.4-1.5l.3-1.4l.3-1.5l.4-1.4l.3-1.5l.4-1.5l.3-1.4l.4-1.5l.3-1.4l.4-1.5l.3-1.4l.4-1.5l.3-1.5l.4-1.4l.3-1.5l.4-1.4l.3-1.5l.4-1.4l.4-1.5l.3-1.5l.4-1.4l.4-1.5l.4-1.4l.4-1.5l.4-1.4l.4-1.4l.4-1.2M468.9 983.7l.4-1.4l.5-1.4l.5-1.5l.5-1.4l.6-1.3l.6-1.4l.6-1.4l.7-1.3l.8-1.3l.8-1.3l.9-1.2l1-1.1l1.1-1l1.2-.9l1.3-.6l1.5-.4l1.5 0l1.5 .3l1.3 .5l1.3 .8l1.2 1l1 1.1l1 1.1l.9 1.2l.8 1.3l.8 1.3l.7 1.3l.7 1.3l.6 1.4l.7 1.3l.6 1.4l.6 1.4l.6 1.3l.5 1.4l.6 1.4l.6 1.4l.5 1.4l.5 1.4l.6 1.4l.5 1.4l.4 1.2M501.9 993.8l.6 1.4l.5 1.4l.5 1.4l.5 1.5l.5 1.4l.5 1.4l.5 1.4l.5 1.4l.5 1.4l.5 1.4l.5 1.5l.5 1.4l.5 1.4l.4 1.4l.5 1.4l.5 1.5l.4 1.4l.5 1.4l.5 1.5l.4 1.4l.4 1.4l.5 1.5l.4 1.4l.4 1.4l.5 1.5l.4 1.4l.4 1.5l.4 1.4l.4 1.4l.4 1.5l.4 1.4l.4 1.5l.4 1.4l.4 1.5l.4 1.4l.4 1.5l.4 1.4l.3 1.5l.4 1.4l.4 1.5l.3 1.1M520.1 1052.2l.4 1.4l.4 1.5l.4 1.4l.4 1.4l.4 1.5l.4 1.4l.4 1.5l.3 1.4l.4 1.5l.4 1.4l.4 1.5l.4 1.4l.4 1.5l.4 1.4l.4 1.5l.4 1.4l.4 1.5l.4 1.4l.4 1.4l.4 1.5l.4 1.4l.5 1.5l.4 1.4l.4 1.5l.4 1.4l.4 1.4l.4 1.5l.4 1.4l.4 1.5l.5 1.4l.4 1.4l.4 1.5l.4 1.4l.5 1.5l.4 1.4l.5 1.4l.4 1.5l.4 1.4l.5 1.4l.4 1.5l.2 .5M536.7 1110.4l.5 1.4l.4 1.4l.5 1.5l.5 1.4l.5 1.4l.5 1.4l.5 1.4l.5 1.4l.5 1.5l.5 1.4l.5 1.4l.5 1.4l.6 1.4l.5 1.4l.6 1.4l.5 1.4l.6 1.3l.6 1.4l.6 1.4l.6 1.4l.6 1.3l.6 1.4l.7 1.4l.6 1.3l.7 1.4l.7 1.3l.7 1.3l.7 1.3l.7 1.4l.8 1.3l.7 1.2l.8 1.3l.8 1.3l.9 1.2l.8 1.2l.9 1.2l1 1.2l.9 1.2l1 1.1l1.1 1.1l.5 .5M563.4 1164.4l1.1 1l1.1 .9l1.2 .9l1.3 .9l1.3 .7l1.4 .6l1.3 .6l1.5 .4l1.4 .4l1.5 .2l1.5 0l1.5 0l1.5-.1l1.5-.3l1.4-.4l1.5-.5l1.3-.6l1.4-.7l1.3-.8l1.2-.8l1.2-.9l1.2-1l1.1-1l1-1l1.1-1.1l1-1.1l1-1.1l.9-1.2l.9-1.2l1-1.2l.8-1.2l.9-1.2l.9-1.2l.8-1.2l.9-1.3l.8-1.2l.9-1.3l.8-1.2l.9-1.2l.8-1.3l.6-.8M610.1 1142.9l.8-1.3l.9-1.2l.8-1.2l.9-1.3l.9-1.2l.8-1.2l.9-1.2l.8-1.3l.9-1.2l.8-1.3l.9-1.2l.8-1.2l.8-1.3l.9-1.2l.8-1.3l.8-1.2l.8-1.3l.8-1.3l.8-1.2l.8-1.3l.8-1.3l.8-1.3l.7-1.3l.8-1.3l.7-1.3l.7-1.3l.7-1.3l.8-1.3l.7-1.4l.7-1.3l.7-1.3l.7-1.3l.7-1.4l.7-1.3l.7-1.3l.7-1.3l.7-1.4l.7-1.3l.7-1.3l.8-1.3l.2-.4M641.5 1091.3l.8-1.3l.7-1.3l.8-1.3l.8-1.2l.8-1.3l.9-1.2l.8-1.3l.9-1.2l.9-1.2l.9-1.2l.9-1.2l.9-1.2l.9-1.2l1-1.1l1-1.1l1-1.2l1-1.1l1-1.1l1.1-1l1-1.1l1.1-1l1.1-1l1.2-1l1.1-1l1.2-1l1.1-.9l1.2-.9l1.2-.9l1.2-.9l1.3-.8l1.2-.8l1.3-.8l1.3-.7l1.4-.7l1.4-.6l1.3-.6l1.5-.5l1.4-.3l1.5-.4l1.5-.2l.2 0M685.3 1052.5l1.5-.1l1.5 .1l1.5 .1l1.5 .3l1.4 .3l1.5 .4l1.4 .5l1.4 .6l1.4 .6l1.3 .7l1.3 .7l1.3 .7l1.3 .8l1.2 .9l1.3 .8l1.2 .9l1.2 .9l1.2 .9l1.1 1l1.2 .9l1.1 1l1.2 1l1.1 1l1.1 1l1.1 1l1.1 1l1.1 1l1.1 1l1.1 1.1l1.1 1l1.1 1l1.1 1l1.1 1.1l1.1 1l1.1 1l1.1 1l1.1 1.1l1.1 1l1.1 1l1.1 1l.8 .6M734.9 1085.4l1.2 1l1.1 .9l1.2 1l1.2 .9l1.2 .9l1.2 .9l1.2 .8l1.3 .9l1.3 .7l1.3 .8l1.3 .8l1.3 .7l1.3 .6l1.4 .6l1.4 .6l1.4 .5l1.4 .4l1.5 .4l1.5 .3l1.4 .3l1.5 .1l1.5 .1l1.5 0l1.5-.1l1.5-.2l1.5-.3l1.4-.4l1.5-.4l1.4-.5l1.4-.6l1.3-.6l1.4-.7l1.3-.7l1.3-.8l1.3-.8l1.2-.8l1.3-.8l1.2-.9l1.2-.9l1.2-.9l1.2-.9M789.6 1088.3l1.2-.9l1.2-1l1.2-.9l1.1-1l1.2-.9l1.1-1l1.1-1l1.2-1l1.1-1l1.1-1l1.1-1l1.1-1l1.1-1l1.1-1l1.1-1l1.1-1.1l1.1-1l1.1-1l1.1-1l1.1-1l1.1-1.1l1.1-1l1.1-1l1.1-1l1.1-1.1l1.1-1l1.1-1l1.1-1l1.2-1l1.1-1l1.1-1l1.1-1l1.2-1l1.1-1l1.1-.9l1.2-1l1.1-.9l1.2-1l1.2-.9l1.2-.9l.9-.7M835.6 1048l1.2-1l1.2-.8l1.2-.9l1.2-.9l1.3-.8l1.2-.8l1.3-.8l1.3-.8l1.3-.7l1.3-.7l1.3-.7l1.4-.7l1.4-.6l1.4-.5l1.4-.5l1.4-.5l1.5-.4l1.4-.3l1.5-.4l1.4-.3l1.5-.2l1.5-.3l1.5-.2l1.5-.2l1.5-.2l1.4-.1l1.5-.2l1.5-.2l1.5-.1l1.5-.1l1.5-.2l1.5-.1l1.5-.1l1.5 0l1.5-.1l1.5-.1l1.5 0l1.5 0l1.5 0l1.5 0l.7 0M892.8 1032.5l1.5 .1l1.5 0l1.5 .1l1.5 .1l1.5 .1l1.5 .1l1.5 .2l1.5 .1l1.5 .2l1.5 .1l1.4 .2l1.5 .2l1.5 .1l1.5 .2l1.5 .2l1.5 .1l1.5 .2l1.5 .1l1.5 .2l1.5 .1l1.5 .2l1.5 .1l1.5 .1l1.5 0l1.5 .1l1.5 .1l1.5 0l1.5 0l1.5 0l1.5 0l1.5-.1l1.5-.1l1.4 0l1.5-.1l1.5-.1l1.5-.2l1.5-.1l1.5-.2l1.5-.1l1.5-.2l.7-.1M953.3 1034.5l1.5-.2l1.5-.3l1.5-.2l1.5-.2l1.5-.3l1.4-.3l1.5-.3l1.5-.3l1.4-.3l1.5-.4l1.4-.3l1.5-.4l1.4-.4l1.5-.4l1.4-.4l1.5-.5l1.4-.4l1.4-.5l1.4-.5l1.4-.5l1.4-.6l1.4-.5l1.4-.6l1.4-.6l1.4-.5l1.3-.7l1.4-.6l1.4-.6l1.3-.7l1.4-.7l1.3-.6l1.3-.7l1.4-.7l1.3-.7l1.3-.7l1.4-.7l1.3-.7l1.3-.6l1.4-.7l1.3-.7l.7-.3M1010.2 1014.2l1.4-.7l1.3-.6l1.4-.6l1.4-.6l1.3-.6l1.4-.6l1.4-.6l1.4-.5l1.4-.6l1.4-.5l1.4-.5l1.4-.5l1.4-.5l1.5-.5l1.4-.5l1.4-.4l1.5-.4l1.4-.5l1.4-.4l1.5-.4l1.4-.3l1.5-.4l1.5-.4l1.4-.3l1.5-.3l1.4-.3l1.5-.3l1.5-.3l1.5-.2l1.4-.3l1.5-.2l1.5-.3l1.5-.2l1.5-.1l1.5-.2l1.5-.2l1.5-.1l1.5-.2l1.4-.1l1.5-.1l.6 0M1068.4 998.9l1.5-.1l1.5-.1l1.5-.1l1.5 0l1.5-.1l1.5 0l1.5 0l1.5 0l1.5 0l1.5 0l1.5 0l1.5 0l1.5 0l1.5 .1l1.5 0l1.5 .1l1.5 0l1.5 0l1.5 .1l1.5 0l1.5 .1l1.5 0l1.5 .1l1.5 0l1.5 .1l1.5 0l1.5 0l1.5 .1l1.5 0l1.5 0l1.5 0l1.5 .1l1.5 0l1.5 0l1.5 0l1.5 0l1.5 0l1.5-.1l1.5 0l1.5 0l.7 0M1129.1 999.2l1.5-.1l1.5 0l1.5-.1l1.5 0l1.5-.1l1.5-.1l1.5 0l1.5-.1l1.5-.1l1.4-.1l1.5-.1l1.5-.1l1.5-.2l1.5-.1l1.5-.1l1.5-.2l1.5-.1l1.5-.2l1.5-.2l1.5-.1l1.5-.2l1.5-.2l1.4-.2l1.5-.2l1.5-.2l1.5-.3l1.5-.2l1.5-.2l1.4-.3l1.5-.2l1.5-.3l1.5-.2l1.4-.3l1.5-.3l1.5-.2l1.5-.3l1.5-.3l1.4-.3l1.5-.2l1.5-.3l.8-.2M1189.4 992l1.5-.2l1.5-.3l1.5-.2l1.5-.3l1.4-.2l1.5-.3l1.5-.2l1.5-.3l1.5-.2l1.4-.2l1.5-.3l1.5-.2l1.5-.2l1.5-.2l1.5-.3l1.4-.2l1.5-.2l1.5-.2l1.5-.1l1.5-.2l1.5-.2l1.5-.2l1.5-.2l1.5-.1l1.4-.2l1.5-.1l1.5-.2l1.5-.1l1.5-.1l1.5-.1l1.5-.2l1.5-.1l1.5-.1l1.5-.1l1.5-.1l1.5-.1l1.5-.1l1.5 0l1.5-.1l1.5-.1l.7 0M1249.7 985l1.5-.1l1.5-.1l1.5 0l1.5-.1l1.5-.1l1.5 0l1.5-.1l1.5 0l1.5-.1l1.5 0l1.5-.1l1.5 0l1.5-.1l1.5 0l1.5-.1l1.5 0l1.5-.1l1.5 0l1.5-.1l1.5 0l1.5 0l1.5-.1l1.5 0l1.5-.1l1.5 0l1.5-.1l1.5 0l1.5 0l1.5-.1l1.5 0l1.5-.1l1.5 0l1.5-.1l1.5-.1l1.5 0l1.5-.1l1.5 0l1.5-.1l1.5 0l1.5-.1l.5 0M1310.2 982.9l1.5-.1l1.5 0l1.5-.1l1.5 0l1.5-.1l1.5 0l1.5-.1l1.5 0l1.5-.1l1.5 0l1.5-.1l1.5 0l1.5-.1l1.5 0l1.5-.1l1.5 0l1.5 0l1.5-.1l1.5 0l1.5 0l1.5 0l1.5 0l1.5 0l1.5-.1l1.5 0l1.5 .1l1.5 0l1.5 0l1.5 0l1.5 0l1.5 .1l1.5 0l1.5 0l1.5 .1l1.5 0l1.5 .1l1.5 0l1.5 .1l1.5 0l1.5 .1l.9 0M1371.1 982.5l1.5 .1l1.5 .1l1.5 .1l1.5 0l1.5 .1l1.5 .1l1.5 .1l1.5 .1l1.5 .1l1.5 0l1.5 .1l1.4 .1l1.5 .1l1.5 .1l1.5 .1l1.5 .1l1.5 .1l1.5 .1l1.5 .1l1.5 .1l1.5 0l1.5 .1l1.5 .1l1.5 .1l1.5 .1l1.5 .1l1.5 .1l1.5 0l1.5 .1l1.5 .1l1.5 .1l1.5 0l1.5 .1l1.5 .1l1.5 .1l1.5 0l1.5 .1l1.5 .1l1.5 .1l1.5 0l1 .1M1432 985.9l1.5 .1l1.5 0l1.5 .1l1.5 .1l1.4 .1l1.5 0l1.5 .1l1.5 .1l1.5 .1l1.5 .1l1.5 .1l1.5 0l1.5 .1l1.5 .1l1.5 .1l1.5 .1l1.5 .1l1.5 .1l1.5 .1l1.5 0l1.5 .1l1.5 .1l1.5 .1l1.5 .1l1.5 .1l1.5 .1l1.5 .1l1.5 .1l1.5 .1l1.5 .1l1.5 0l1.5 .1l1.5 .1l1.5 .1l1.5 .1l1.5 .1l1.5 .1l1.5 0l1.5 .1l1.5 .1l.5 0M1492.4 989.3l1.5 .1l1.5 .1l1.5 0l1.5 .1l1.5 .1l1.5 0l1.5 .1l1.5 0l1.5 .1l1.5 0l1.5 .1l1.5 0l1.5 .1l1.5 0l1.5 .1l1.5 0l1.5 .1l1.5 0l1.5 .1l1.5 0l1.5 0l1.5 .1l1.5 0l1.5 .1l1.5 0l1.5 0l1.5 .1l1.5 0l1.5 0l1.5 .1l1.5 0l1.5 .1l1.5 0l1.5 0l1.5 .1l1.5 0l1.5 0l1.5 .1l1.5 0l1.5 0l.6 0M1553 991.1l1.5 .1l1.5 0l1.5 0l1.5 .1l1.5 0l1.5 0l1.5 0l1.5 0l1.5 .1l1.5 0l1.5 0l1.5 0l1.5 0l1.5 .1l1.5 0l1.5 0l1.5 0l1.5 0l1.5 0l1.5 .1l1.5 0l1.5 0l1.5 0l1.5 0l1.5 .1l1.5 0l1.5 0l1.5 0l1.5 0l1.5 .1l1.5 0l1.5 0l1.5 0l1.5 .1l1.5 0l1.5 0l1.5 .1l1.5 0l1.5 .1l1.5 0l.8 0M1613.8 992.1l1.5 .1l1.5 0l1.5 .1l1.5 .1l1.5 0l1.5 .1l1.5 .1l1.5 0l1.5 .1l1.5 .1l1.5 .1l1.5 .1l1.5 .1l1.5 .1l1.5 .1l1.5 .1l1.4 .1l1.5 .1l1.5 .1l1.5 .1l1.5 .1l1.5 .2l1.5 .1l1.5 .1l1.5 .1l1.5 .2l1.5 .1l1.5 .1l1.5 .2l1.5 .1l1.5 .2l1.5 .1l1.5 .1l1.5 .2l1.4 .1l1.5 .1l1.5 .2l1.5 .1l1.5 .1l1.5 .1l.7 .1M1674.3 996.5l1.5 .1l1.5 .1l1.5 .1l1.5 .1l1.5 .1l1.5 0l1.5 .1l1.5 .1l1.5 0l1.5 .1l1.5 0l1.5 0l1.5 .1l1.5 0l1.5 0l1.5 0l1.5 0l1.5 0l1.5 0l1.5 0l1.5-.1l1.5 0l1.5-.1l1.5 0l1.5-.1l1.5-.1l1.5-.1l1.5-.1l1.5-.1l1.5-.1l1.5-.1l1.4-.1l1.5-.1l1.5-.1l1.5-.2l1.5-.1l1.5-.1l1.5-.2l1.5-.1l1.5-.2l.9 0M1735.1 995.3l1.5-.2l1.5-.1l1.5-.1l1.5-.2l1.5-.1l1.5-.1l1.5-.2l1.5-.1l1.5-.1l1.5-.1l1.5-.1l1.5-.1l1.5-.1l1.5-.1l1.4-.1l1.5-.1l1.5-.1l1.5-.1l1.5 0l1.5-.1l1.5-.1l1.5 0l1.5-.1l1.5 0l1.5 0l1.5 0l1.5-.1l1.5 0l1.5 0l1.5 0l1.5 0l1.5 .1l1.5 0l1.5 0l1.5 0l1.5 .1l1.5 0l1.5 .1l1.5 0l1.5 .1l.8 0M1795.8 993.2l1.5 .1l1.5 0l1.5 .1l1.5 0l1.5 .1l1.5 .1l1.5 0l1.5 .1l1.5 .1l1.5 0l1.5 .1l1.5 .1l1.5 0l1.5 .1l1.5 .1l1.5 0l1.5 .1l1.5 0l1.5 .1l1.5 0l1.5 .1l1.5 0l1.5 .1l1.5 0l1.5 0l1.5 .1l1.5 0l1.5 0l1.5 0l1.5 0l1.5 0l1.5 0l1.5 0l1.5 0l1.5 0l1.5 0l1.5 0l1.5 0l1.5 0l1.5 0l.4 0M1856.2 994.7l1.5 0l1.5 0l1.5 0l1.5 0l1.5 0l1.5 0l1.5 0l1.5 0l1.5 0l1.5 0l1.5-.1l1.5 0l1.5 0l1.5 0l1.5 0l1.5 0l1.5 0l1.5 0l1.5 0l1.5 0l1.5 0l1.5-.1l1.5 0l1.5 0l1.5 0l1.5 0l1.5 0l1.5 0l1.5 0l1.5-.1l1.5 0l1.5 0l1.5 0l1.5 0l1.5-.1l1.5 0l1.5 0l1.5 0l1.5-.1l1.5 0l.9 0M1917.1 994.2l1.5 0l1.5-.1l1.5 0l1.5 0l1.5-.1l1.5 0l1.5 0l1.5-.1l1.5 0l1.5-.1l1.5 0l1.4 0l1.5-.1l1.5 0l1.5-.1l1.5 0l1.5-.1l1.5 0l1.5 0l1.5-.1l1.5 0l1.5-.1l1.5 0l1.5-.1l1.5 0l1.5-.1l1.5 0l1.5-.1l1.5 0l1.5-.1l1.5 0l1.5-.1l1.5 0l1.5-.1l1.5 0l1.5-.1l1.5 0l1.5-.1l1.5 0l1.5-.1l1 0M1978 992.4l1.5-.1l1.5-.1l1.5-.1l1.5 0l1.5-.1l1.5-.1l1.5-.1l1.5-.1l1.5 0l1.5-.1l1.5-.1l1.5-.1l1.5-.1l1.5-.1l1.5-.1l1.5-.1l1.5-.1l1.5-.1l1.5-.1l1.5-.1l1.5-.1l1.5-.1l1.5-.1l1.5-.1l1.5-.1l1.4-.1l1.5-.2l1.5-.1l1.5-.1l1.5-.1l1.5-.1l1.5-.1l1.5-.1l1.5-.1l1.5-.1l1.5-.1l1.5-.2l1.5-.1l1.5-.1l1.5-.1l.7 0M2038.6 988.4l1.5-.1l1.5-.1l1.5-.1l1.5-.1l1.5-.1l1.5-.1l1.5-.1l1.5-.1l1.5 0l1.5-.1l1.5-.1l1.4-.1l1.5-.1l1.5-.1l1.5-.1l1.5 0l1.5-.1l1.5-.1l1.5-.1l1.5-.1l1.5 0l1.5-.1l1.5-.1l1.5-.1l1.5-.1l1.5 0l1.5-.1l1.5-.1l1.5-.1l1.5-.1l1.5 0l1.5-.1l1.5-.1l1.5-.1l1.5-.1l1.5 0l1.5-.1l1.5-.1l1.5-.1l1.5-.1l.6 0M2099.1 985l1.5-.1l1.5-.1l1.5 0l1.5-.1l1.5-.1l1.5-.1l.4 0"/>
<path class="cv" stroke="#ff0000" stroke-dasharray="30.6 11.2 7.8 200" d="M286 978.8l1.3-.9l1.2-.8l1.2-.9l1.2-.9l1.1-1l1-1.1l1-1.2l.9-1.1l.9-1.2l.9-1.3l.8-1.2l.8-1.3l.7-1.3l.7-1.4l.7-1.3l.7-1.3l.6-1.4l.6-1.3l.7-1.4l.5-1.4l.6-1.4l.6-1.4l.6-1.3l.5-1.4l.6-1.4l.5-1.4l.6-1.4l.5-1.4l.6-1.4l.5-1.4l.6-1.4l.5-1.4l.6-1.4l.5-1.4l.6-1.4l.5-1.4l.6-1.4l.5-1.4l.6-1.4l.5-1.4l.3-.7M314.9 926.5l.5-1.4l.5-1.4l.6-1.4l.5-1.4l.6-1.4l.5-1.4l.6-1.4l.6-1.3l.6-1.4l.7-1.4l.7-1.3l.7-1.3l.7-1.3l.8-1.3l.8-1.3l.8-1.2l.9-1.2l1-1.2l1-1l1.2-1l1.2-.9l1.3-.7l1.5 0l1.3 .7l1.1 1l.9 1.2l.8 1.3l.7 1.3l.7 1.3l.7 1.4l.6 1.3l.6 1.4l.7 1.4l.6 1.3l.6 1.4l.6 1.4l.6 1.4l.5 1.4l.5 1.4l.5 1.4l.5 1.4l0 .1M345.7 922.4l.5 1.5l.4 1.4l.4 1.5l.3 1.4l.4 1.5l.3 1.4l.4 1.5l.3 1.5l.4 1.4l.3 1.5l.3 1.4l.4 1.5l.3 1.5l.3 1.4l.3 1.5l.2 1.5l.3 1.5l.3 1.4l.2 1.5l.2 1.5l.3 1.5l.2 1.5l.2 1.5l.2 1.4l.2 1.5l.2 1.5l.2 1.5l.2 1.5l.2 1.5l.3 1.5l.2 1.4l.2 1.5l.3 1.5l.3 1.5l.2 1.4l.3 1.5l.3 1.5l.3 1.5l.2 1.4l.3 1.5l.2 1.3M357.2 982.6l.3 1.5l.2 1.5l.2 1.5l.2 1.5l.3 1.4l.2 1.5l.2 1.5l.2 1.5l.2 1.5l.1 1.5l.2 1.5l.2 1.5l.2 1.4l.2 1.5l.2 1.5l.2 1.5l.2 1.5l.1 1.5l.2 1.5l.2 1.5l.2 1.4l.2 1.5l.2 1.5l.2 1.5l.2 1.5l.2 1.5l.3 1.5l.2 1.4l.2 1.5l.2 1.5l.2 1.5l.3 1.5l.2 1.5l.2 1.4l.2 1.5l.3 1.5l.2 1.5l.2 1.5l.2 1.5l.3 1.4l0 .5M365.6 1042.5l.3 1.5l.2 1.5l.2 1.5l.2 1.5l.2 1.5l.2 1.5l.2 1.4l.2 1.5l.2 1.5l.2 1.5l.2 1.5l.2 1.5l.2 1.5l.2 1.5l.2 1.4l.1 1.5l.2 1.5l.2 1.5l.2 1.5l.1 1.5l.2 1.5l.2 1.5l.1 1.5l.2 1.5l.2 1.4l.1 1.5l.2 1.5l.2 1.5l.1 1.5l.2 1.5l.2 1.5l.2 1.5l.1 1.5l.2 1.5l.2 1.4l.2 1.5l.2 1.5l.1 1.5l.2 1.5l.2 1.5l.1 .4M373.1 1102.5l.1 1.5l.2 1.5l.2 1.5l.1 1.5l.2 1.5l.2 1.4l.1 1.5l.2 1.5l.2 1.5l.1 1.5l.2 1.5l.2 1.5l.1 1.5l.2 1.5l.1 1.5l.2 1.5l.1 1.5l.2 1.4l.2 1.5l.1 1.5l.2 1.5l.1 1.5l.2 1.5l.1 1.5l.2 1.5l.2 1.5l.1 1.5l.2 1.5l.2 1.5l.1 1.4l.2 1.5l.2 1.5l.1 1.5l.2 1.5l.2 1.5l.2 1.5l.2 1.5l.2 1.5l.1 1.4l.2 1.5l.1 .8M379.8 1162.9l.2 1.5l.2 1.5l.2 1.4l.2 1.5l.2 1.5l.2 1.5l.3 1.5l.2 1.5l.2 1.5l.2 1.4l.2 1.5l.1 1.5l.2 1.5l.2 1.5l.2 1.5l.2 1.5l.2 1.5l.1 1.5l.2 1.4l.1 1.5l.2 1.5l.1 1.5l.2 1.5l.1 1.5l.1 1.5l.2 1.5l.1 1.5l.2 1.5l.1 1.5l.1 1.5l.2 1.5l.2 1.5l.1 1.4l.2 1.5l.2 1.5l.1 1.5l.2 1.5l.2 1.5l.2 1.5l.2 1.5l.1 .8M386.9 1223.3l.1 1.5l.2 1.4l.2 1.5l.2 1.5l.2 1.5l.2 1.5l.1 1.5l.2 1.5l.2 1.5l.2 1.5l.2 1.4l.2 1.5l.1 1.5l.2 1.5l.2 1.5l.2 1.5l.2 1.5l.1 1.5l.2 1.5l.2 1.4l.2 1.5l.2 1.5l.2 1.5l.1 1.5l.2 1.5l.2 1.5l.2 1.5l.2 1.5l.1 1.4l.2 1.5l.2 1.5l.2 1.5l.1 1.5l.2 1.5l.2 1.5l.2 1.5l.2 1.5l.1 1.5l.2 1.4l.2 1.5l.1 .8M394.2 1283.6l.2 1.5l.2 1.5l.2 1.4l.2 1.5l.2 1.5l.2 1.5l.3 1.5l.2 1.5l.2 1.5l.2 1.4l.3 1.5l.2 1.5l.2 1.5l.2 1.5l.3 1.4l.2 1.5l.2 1.5l.2 1.5l.3 1.5l.2 1.5l.2 1.5l.2 1.4l.2 1.5l.2 1.5l.2 1.5l.2 1.5l.2 1.5l.2 1.5l.2 1.4l.2 1.5l.2 1.5l.2 1.5l.2 1.5l.3 1.5l.2 1.4l.2 1.5l.2 1.5l.2 1.5l.3 1.5l.2 1.5l.1 .8M402.9 1343.8l.2 1.5l.3 1.4l.2 1.5l.2 1.5l.3 1.5l.2 1.5l.2 1.4l.3 1.5l.2 1.5l.3 1.5l.2 1.5l.3 1.4l.2 1.5l.3 1.5l.3 1.5l.2 1.4l.3 1.5l.3 1.5l.3 1.5l.3 1.4l.4 1.5l.3 1.4l.3 1.5l.4 1.5l.4 1.4l.3 1.5l.4 1.4l.4 1.5l.4 1.4l.4 1.5l.4 1.4l.4 1.5l.4 1.4l.3 1.5l.4 1.4l.4 1.5l.4 1.4l.4 1.5l.4 1.4l.4 1.5l.2 .9M415.8 1403.3l.4 1.4l.4 1.5l.5 1.4l.4 1.4l.4 1.5l.5 1.4l.4 1.4l.5 1.5l.5 1.4l.5 1.4l.6 1.4l.5 1.4l.6 1.3l.7 1.4l.6 1.3l.7 1.4l.8 1.3l.8 1.3l.8 1.2l.8 1.3l.9 1.2l.9 1.2l.9 1.1l1.1 1.1l1.1 .9l1.4 .6l1.5 0l1.5-.4l1.4-.4l1.5-.4l1.4-.5l1.4-.5l1.3-.7l1.3-.8l1.3-.8l1.2-.9l1.1-.9l1.2-1l1.1-1l1.1-1l1.1-1M452.9 1426.7l1-1l1.1-1l1.1-1.1l1-1.1l1.1-1l1.1-1.1l1-1.1l1-1.1l1.1-1.1l1-1l1-1.1l1-1.2l1-1.1l1-1.1l1-1.1l1-1.1l1-1.1l1-1.2l1-1.1l1-1.1l.9-1.2l1-1.1l1-1.1l1-1.2l1-1.1l.9-1.2l1-1.1l1-1.1l1-1.1l1-1.1l1.1-1.1l1-1.1l1-1.1l1.1-1.1l1-1l1.1-1.1l1.1-1l1.1-1.1l1-1l1.1-1.1l1.1-1M494.9 1381.9l1-1.1l1.1-1l1-1.1l1.1-1.1l1-1.1l1-1.1l1-1.1l1-1.1l1-1.2l.9-1.1l1-1.2l.9-1.2l.9-1.2l.8-1.2l.9-1.3l.8-1.2l.8-1.3l.8-1.2l.8-1.3l.8-1.3l.7-1.3l.7-1.3l.7-1.4l.7-1.3l.7-1.3l.7-1.4l.6-1.3l.7-1.4l.6-1.4l.6-1.3l.6-1.4l.6-1.4l.6-1.4l.5-1.4l.6-1.3l.6-1.4l.5-1.4l.6-1.4l.6-1.4l.6-1.4l.3-.9M526.3 1330.3l.6-1.4l.6-1.4l.6-1.4l.6-1.3l.6-1.4l.6-1.4l.6-1.4l.6-1.3l.6-1.4l.6-1.4l.6-1.4l.6-1.3l.6-1.4l.6-1.4l.6-1.3l.6-1.4l.6-1.4l.6-1.4l.6-1.3l.6-1.4l.6-1.4l.6-1.4l.6-1.4l.6-1.3l.6-1.4l.5-1.4l.6-1.4l.6-1.4l.5-1.4l.6-1.3l.6-1.4l.5-1.4l.6-1.4l.5-1.4l.6-1.4l.5-1.4l.6-1.4l.6-1.4l.5-1.4l.6-1.4l.2-.4M549.9 1274.6l.5-1.4l.6-1.4l.6-1.3l.6-1.4l.6-1.4l.6-1.4l.6-1.3l.7-1.4l.6-1.4l.6-1.3l.6-1.4l.7-1.3l.6-1.4l.6-1.4l.7-1.3l.6-1.4l.7-1.3l.6-1.4l.6-1.4l.6-1.3l.7-1.4l.6-1.3l.6-1.4l.6-1.4l.7-1.3l.6-1.4l.6-1.4l.7-1.3l.7-1.4l.6-1.3l.7-1.3l.8-1.3l.7-1.3l.8-1.3l.8-1.3l.8-1.2l.9-1.3l.9-1.2l.9-1.1l1-1.2l.3-.4M577.2 1220.8l1-1.1l1.1-1l1.1-1.1l1.1-.9l1.2-.9l1.3-.8l1.3-.8l1.3-.7l1.4-.5l1.4-.5l1.5-.4l1.5-.2l1.5-.2l1.5 0l1.5 .1l1.5 .1l1.4 .3l1.5 .3l1.4 .5l1.5 .4l1.4 .6l1.3 .6l1.4 .6l1.3 .7l1.3 .7l1.3 .8l1.3 .8l1.2 .9l1.2 .9l1.2 .9l1.1 1l1.2 1l1.1 .9l1.1 1.1l1.1 1l1.1 1l1.2 1l1.1 .9l1.2 1l1.2 .9l1.2 .8M629.7 1231.5l1.2 .8l1.4 .7l1.3 .7l1.4 .5l1.5 .4l1.4 .4l1.5 .3l1.5 .2l1.5 .2l1.4 .1l1.5 .1l1.5 .1l1.5 0l1.5 .1l1.5-.1l1.5 0l1.5-.2l1.5-.3l1.4-.4l1.4-.6l1.4-.6l1.3-.8l1.2-.9l1.2-.9l1.1-1l1.1-1l1.1-1.1l1-1l1.1-1.1l1-1.1l1-1.1l1-1.1l1-1.2l1-1.1l.9-1.1l1-1.2l1-1.1l.9-1.2l1-1.2l.9-1.1l.9-1.2l.1-.1M680.8 1212.3l1-1.2l.9-1.2l.9-1.2l.9-1.2l.9-1.2l.9-1.1l.9-1.2l.9-1.3l.9-1.2l.9-1.2l.9-1.2l.9-1.2l.8-1.2l.9-1.3l.8-1.2l.9-1.2l.8-1.3l.9-1.2l.8-1.3l.8-1.2l.8-1.3l.8-1.3l.8-1.2l.8-1.3l.8-1.3l.8-1.2l.8-1.3l.8-1.3l.8-1.3l.8-1.2l.8-1.3l.8-1.3l.8-1.2l.8-1.3l.8-1.3l.8-1.2l.8-1.3l.8-1.2l.9-1.3l.8-1.3l.4-.7M714.9 1161.9l.8-1.3l.8-1.3l.8-1.2l.8-1.3l.8-1.3l.7-1.3l.8-1.2l.8-1.3l.8-1.3l.8-1.3l.8-1.2l.8-1.3l.9-1.2l.8-1.3l.8-1.2l.9-1.3l.9-1.2l.9-1.2l.9-1.2l.9-1.2l1-1.1l.9-1.1l1-1.1l1.1-1.1l1-1.1l1.1-1l1.1-1.1l1.1-1l1.1-1l1.1-1.1l1-1l1.1-1.1l1.1-1.1l1-1l1.1-1.1l1-1.1l1.1-1l1-1.1l1.1-1l1.1-1.1l.4-.4M752.9 1115.1l1.1-1l1.2-1l1.1-1l1.2-.9l1.1-1l1.2-.9l1.2-.9l1.2-.9l1.2-.9l1.3-.8l1.2-.9l1.3-.8l1.2-.8l1.3-.8l1.3-.8l1.3-.7l1.3-.8l1.3-.7l1.3-.8l1.3-.7l1.3-.7l1.3-.7l1.3-.7l1.4-.7l1.3-.7l1.4-.7l1.3-.6l1.4-.6l1.3-.7l1.4-.5l1.4-.6l1.4-.5l1.4-.5l1.4-.5l1.5-.5l1.4-.5l1.4-.4l1.5-.4l1.4-.4l1.5-.4l.7-.2M805.9 1086.5l1.5-.4l1.4-.3l1.5-.3l1.5-.4l1.4-.3l1.5-.3l1.5-.4l1.4-.3l1.5-.3l1.5-.3l1.4-.3l1.5-.4l1.5-.3l1.4-.3l1.5-.3l1.5-.3l1.4-.3l1.5-.3l1.5-.3l1.4-.3l1.5-.3l1.5-.3l1.4-.3l1.5-.3l1.5-.3l1.5-.3l1.4-.3l1.5-.3l1.5-.3l1.4-.3l1.5-.3l1.5-.4l1.4-.3l1.5-.4l1.4-.4l1.5-.3l1.4-.4l1.5-.4l1.4-.5l1.4-.4l.8-.2M865.2 1073.1l1.5-.4l1.4-.5l1.4-.4l1.5-.5l1.4-.5l1.4-.5l1.4-.5l1.4-.5l1.4-.5l1.4-.5l1.4-.6l1.4-.6l1.4-.6l1.3-.6l1.4-.6l1.3-.7l1.4-.7l1.3-.7l1.3-.7l1.3-.8l1.3-.7l1.3-.8l1.3-.8l1.2-.8l1.3-.8l1.2-.8l1.3-.8l1.3-.8l1.2-.9l1.3-.7l1.3-.8l1.3-.8l1.3-.7l1.3-.8l1.3-.7l1.3-.7l1.3-.7l1.4-.7l1.3-.7l1.3-.7l.5-.2M919.2 1046.3l1.3-.7l1.3-.7l1.4-.7l1.3-.7l1.4-.6l1.3-.7l1.4-.6l1.3-.7l1.4-.6l1.3-.7l1.4-.6l1.4-.6l1.3-.6l1.4-.6l1.4-.6l1.4-.6l1.4-.5l1.4-.6l1.4-.5l1.4-.5l1.4-.5l1.4-.5l1.4-.5l1.5-.4l1.4-.4l1.4-.5l1.5-.4l1.4-.4l1.5-.4l1.4-.4l1.5-.4l1.4-.4l1.5-.4l1.4-.4l1.5-.3l1.4-.4l1.5-.3l1.4-.4l1.5-.3l1.5-.4l.3 0M975.7 1025.8l1.5-.4l1.5-.3l1.4-.3l1.5-.2l1.5-.3l1.5-.3l1.4-.3l1.5-.2l1.5-.3l1.5-.2l1.5-.3l1.4-.2l1.5-.3l1.5-.2l1.5-.3l1.4-.2l1.5-.3l1.5-.3l1.5-.2l1.5-.3l1.4-.3l1.5-.2l1.5-.3l1.5-.3l1.4-.3l1.5-.3l1.5-.3l1.4-.2l1.5-.3l1.5-.3l1.5-.3l1.4-.3l1.5-.3l1.5-.3l1.5-.2l1.4-.3l1.5-.3l1.5-.2l1.5-.3l1.4-.2l.8-.1M1035.5 1014.8l1.5-.2l1.4-.3l1.5-.2l1.5-.2l1.5-.1l1.5-.2l1.5-.2l1.5-.2l1.5-.1l1.5-.2l1.4-.2l1.5-.1l1.5-.2l1.5-.2l1.5-.1l1.5-.2l1.5-.2l1.5-.1l1.5-.2l1.5-.2l1.4-.2l1.5-.2l1.5-.2l1.5-.3l1.5-.2l1.5-.2l1.4-.3l1.5-.2l1.5-.3l1.5-.3l1.4-.2l1.5-.3l1.5-.3l1.5-.3l1.4-.3l1.5-.3l1.5-.3l1.4-.3l1.5-.3l1.5-.3l.8-.2M1095.6 1005.7l1.5-.3l1.4-.3l1.5-.3l1.5-.3l1.4-.3l1.5-.3l1.5-.3l1.5-.3l1.4-.3l1.5-.3l1.5-.3l1.4-.2l1.5-.3l1.5-.3l1.5-.3l1.4-.3l1.5-.2l1.5-.3l1.5-.3l1.4-.2l1.5-.3l1.5-.3l1.5-.2l1.4-.3l1.5-.2l1.5-.2l1.5-.3l1.5-.2l1.5-.2l1.4-.2l1.5-.2l1.5-.2l1.5-.2l1.5-.2l1.5-.1l1.5-.2l1.5-.2l1.5-.1l1.5-.1l1.5-.2l.8 0M1155.6 995.9l1.5-.1l1.5-.1l1.5-.1l1.5-.1l1.5-.1l1.5-.1l1.5 0l1.5-.1l1.5 0l1.5-.1l1.5 0l1.5 0l1.5 0l1.5-.1l1.5 0l1.5 0l1.5 .1l1.5 0l1.5 0l1.5 0l1.5 .1l1.5 0l1.5 0l1.5 .1l1.5 0l1.5 .1l1.5 .1l1.5 0l1.5 .1l1.5 .1l1.5 0l1.5 .1l1.5 .1l1.5 0l1.5 .1l1.5 .1l1.5 .1l1.5 0l1.5 .1l1.5 .1l.8 0M1216.4 996.4l1.5 .1l1.5 0l1.5 .1l1.5 0l1.5 .1l1.5 0l1.5 .1l1.5 0l1.5 0l1.5 .1l1.5 0l1.5 0l1.5 0l1.5 0l1.5 0l1.5 0l1.5 0l1.5 0l1.5 0l1.5 0l1.5-.1l1.5 0l1.5-.1l1.5 0l1.5-.1l1.5-.1l1.5 0l1.5-.1l1.5-.1l1.5-.1l1.5-.1l1.5-.1l1.5-.1l1.5-.1l1.5-.2l1.5-.1l1.5-.1l1.5-.2l1.5-.1l1.5-.2l.4 0M1276.8 994.9l1.5-.2l1.5-.1l1.5-.2l1.5-.2l1.4-.1l1.5-.2l1.5-.2l1.5-.2l1.5-.1l1.5-.2l1.5-.2l1.5-.2l1.5-.2l1.4-.2l1.5-.2l1.5-.2l1.5-.1l1.5-.2l1.5-.2l1.5-.2l1.5-.2l1.5-.2l1.4-.1l1.5-.2l1.5-.2l1.5-.2l1.5-.1l1.5-.2l1.5-.2l1.5-.1l1.5-.2l1.5-.1l1.5-.2l1.4-.1l1.5-.1l1.5-.2l1.5-.1l1.5-.1l1.5-.1l1.5-.1l.7-.1M1337.1 988.2l1.5-.1l1.5 0l1.5-.1l1.5-.1l1.5-.1l1.5 0l1.5-.1l1.5 0l1.5-.1l1.5 0l1.5-.1l1.5 0l1.5-.1l1.5 0l1.5 0l1.5-.1l1.5 0l1.5 0l1.5 0l1.5 0l1.5 0l1.5 0l1.5 0l1.5 0l1.5 0l1.5 .1l1.5 0l1.5 0l1.5 .1l1.5 0l1.5 0l1.5 .1l1.5 0l1.5 .1l1.5 0l1.5 .1l1.5 .1l1.5 0l1.4 .1l1.5 0l1.3 .1M1398.3 988.1l1.5 0l1.5 .1l1.5 .1l1.5 0l1.5 .1l1.5 0l1.4 .1l1.5 .1l1.5 0l1.5 .1l1.5 0l1.5 .1l1.5 0l1.5 .1l1.5 .1l1.5 0l1.5 .1l1.5 0l1.5 .1l1.5 0l1.5 .1l1.5 0l1.5 .1l1.5 0l1.5 0l1.5 .1l1.5 0l1.5 .1l1.5 0l1.5 .1l1.5 0l1.5 0l1.5 .1l1.5 0l1.5 0l1.5 .1l1.5 0l1.5 0l1.5 0l1.5 .1l.9 0M1459.1 990l1.5 0l1.5 0l1.5 0l1.5 0l1.5 0l1.5 0l1.5 0l1.5 0l1.5-.1l1.5 0l1.5 0l1.5-.1l1.5 0l1.5-.1l1.5 0l1.5-.1l1.5-.1l1.5-.1l1.5 0l1.5-.1l1.5-.1l1.5-.2l1.5-.1l1.5-.1l1.5-.1l1.5-.2l1.5-.1l1.5-.2l1.5-.1l1.4-.2l1.5-.2l1.5-.2l1.5-.1l1.5-.2l1.5-.2l1.5-.2l1.5-.2l1.5-.2l1.4-.2l1.5-.2l.4 0M1519.3 986l1.5-.2l1.5-.2l1.5-.2l1.5-.2l1.4-.2l1.5-.2l1.5-.2l1.5-.2l1.5-.2l1.5-.2l1.5-.2l1.5-.2l1.4-.2l1.5-.1l1.5-.2l1.5-.2l1.5-.2l1.5-.2l1.5-.2l1.5-.2l1.5-.1l1.4-.2l1.5-.2l1.5-.2l1.5-.1l1.5-.2l1.5-.2l1.5-.1l1.5-.2l1.5-.2l1.5-.1l1.4-.2l1.5-.1l1.5-.2l1.5-.1l1.5-.2l1.5-.1l1.5-.2l1.5-.1l1.5-.2l.5 0M1579.4 978.9l1.5-.2l1.5-.1l1.5-.1l1.5-.1l1.5-.2l1.5-.1l1.5-.1l1.5-.1l1.5-.1l1.5-.1l1.5-.1l1.5-.2l1.5-.1l1.5-.1l1.5-.1l1.4-.1l1.5-.1l1.5 0l1.5-.1l1.5-.1l1.5-.1l1.5-.1l1.5-.1l1.5-.1l1.5-.1l1.5-.1l1.5 0l1.5-.1l1.5-.1l1.5-.1l1.5-.1l1.5 0l1.5-.1l1.5-.1l1.5 0l1.5-.1l1.5 0l1.5-.1l1.5 0l1.5-.1l.8 0M1640.1 975.2l1.5 0l1.5-.1l1.5 0l1.5 0l1.5 0l1.5-.1l1.5 0l1.5 0l1.5 0l1.5 0l1.5 0l1.5 0l1.5 0l1.5 0l1.5 0l1.5 0l1.5 0l1.5 0l1.5 0l1.5 0l1.5 0l1.5 0l1.5 0l1.5 0l1.5 0l1.5 0l1.5 0l1.5 0l1.5 0l1.5 0l1.5-.1l1.5 0l1.5 0l1.5 0l1.5 0l1.5 0l1.5-.1l1.5 0l1.5 0l1.5 0l.8-.1M1700.9 974.7l1.5 0l1.5 0l1.5-.1l1.5 0l1.5-.1l1.5 0l1.5-.1l1.5 0l1.5 0l1.5-.1l1.5 0l1.5-.1l1.5 0l1.5-.1l1.5 0l1.5 0l1.5-.1l1.5 0l1.5 0l1.5-.1l1.5 0l1.5 0l1.5 0l1.5 0l1.5 0l1.5 0l1.5 0l1.5 0l1.5 .1l1.5 0l1.5 0l1.5 .1l1.5 0l1.5 0l1.5 .1l1.5 0l1.5 .1l1.5 0l1.5 .1l1.5 .1l.6 0M1761.5 974.5l1.5 .1l1.5 0l1.5 .1l1.5 .1l1.5 0l1.5 .1l1.5 0l1.5 .1l1.5 .1l1.5 0l1.5 .1l1.5 0l1.5 .1l1.5 0l1.5 .1l1.5 0l1.5 0l1.5 .1l1.5 0l1.5 0l1.5 0l1.5 0l1.5 0l1.5 0l1.5 0l1.5 0l1.5-.1l1.5 0l1.5 0l1.5-.1l1.5 0l1.5-.1l1.5-.1l1.5 0l1.5-.1l1.5-.1l1.5-.1l1.5-.1l1.5-.1l1.5-.1l.8 0M1822.3 974.5l1.5-.1l1.5-.1l1.5-.1l1.5-.1l1.5-.1l1.5-.1l1.5-.2l1.5-.1l1.5-.1l1.5-.1l1.5-.1l1.5-.1l1.5-.1l1.5-.1l1.5-.1l1.5-.1l1.5-.1l1.5-.1l1.5 0l1.5-.1l1.5-.1l1.5 0l1.4-.1l1.5-.1l1.5 0l1.5 0l1.5-.1l1.5 0l1.5 0l1.5 0l1.5 0l1.5 0l1.5 0l1.5 .1l1.5 0l1.5 .1l1.5 0l1.5 .1l1.5 .1l1.5 .1l.9 0M1883.1 972.6l1.5 .1l1.5 .2l1.5 .1l1.5 .1l1.5 .1l1.5 .2l1.5 .1l1.5 .2l1.5 .1l1.5 .2l1.5 .2l1.4 .1l1.5 .2l1.5 .2l1.5 .2l1.5 .1l1.5 .2l1.5 .2l1.5 .2l1.5 .2l1.4 .2l1.5 .2l1.5 .2l1.5 .2l1.5 .1l1.5 .2l1.5 .2l1.5 .2l1.4 .2l1.5 .1l1.5 .2l1.5 .2l1.5 .1l1.5 .2l1.5 .1l1.5 .1l1.5 .2l1.5 .1l1.5 .1l1.5 .1l.7 .1M1943.5 979.1l1.5 .1l1.5 .1l1.4 .1l1.5 .1l1.5 .1l1.5 0l1.5 .1l1.5 .1l1.5 0l1.5 .1l1.5 0l1.5 .1l1.5 0l1.5 .1l1.5 0l1.5 0l1.5 .1l1.5 0l1.5 0l1.5 0l1.5 .1l1.5 0l1.5 0l1.5 0l1.5 0l1.5 0l1.5 0l1.5 0l1.5 0l1.5 0l1.5 0l1.5 0l1.5 0l1.5 0l1.5 0l1.5 0l1.5 0l1.5-.1l1.5 0l1.5 0l.8 0M2004.2 980.2l1.5 0l1.5 0l1.5 0l1.5 0l1.5 0l1.5 0l1.5 0l1.5 0l1.5 0l1.5 0l1.5 0l1.5 0l1.5 0l1.5 0l1.5 0l1.5 0l1.5 0l1.5 0l1.5 .1l1.5 0l1.5 0l1.5 0l1.5 .1l1.5 0l1.5 0l1.5 .1l1.5 0l1.5 .1l1.5 0l1.5 .1l1.5 0l1.5 .1l1.5 0l1.5 .1l1.5 .1l1.5 .1l1.5 0l1.5 .1l1.5 .1l1.5 .1l1.1 0M2065.3 981.4l1.5 .1l1.5 .1l1.5 .1l1.5 0l1.5 .1l1.5 .1l1.5 .1l1.5 .1l1.5 .1l1.5 0l1.5 .1l1.4 .1l1.5 .1l1.5 0l1.5 .1l1.5 .1l1.5 .1l1.5 0l1.5 .1l1.5 .1l1.5 0l1.5 .1l1.5 .1l1.5 0l1.5 .1l1.5 0l1.5 .1l1.5 .1l1.3 0"/>
</g>
<path class="ax" style="fill:#fff" d="M1681 89H2072V362H1681Z"/>
<path class="ax" fill-rule="evenodd" d="M1681 89H2072V362H1681ZM1685 93H2069V359H1685Z"/>
<path style="shape-rendering:crispEdges" fill="#0000ff" d="M1698 138H1851V142H1698Z"/>
<text class="lg" x="1862.2" y="167.4">Area 1</text>
<path style="shape-rendering:crispEdges" fill="#000000" d="M1698 224H1737V227H1698ZM1759 224H1798V227H1759ZM1820 224H1851V227H1820Z"/>
<text class="lg" x="1862.2" y="252.0">Area 2</text>
<path style="shape-rendering:crispEdges" fill="#ff0000" d="M1698 309H1729V313H1698ZM1740 309H1748V313H1740ZM1759 309H1790V313H1759ZM1801 309H1809V313H1801ZM1820 309H1851V313H1820Z"/>
<text class="lg" x="1862.2" y="338.0">Area 3</text>
</svg>
</body></html>
